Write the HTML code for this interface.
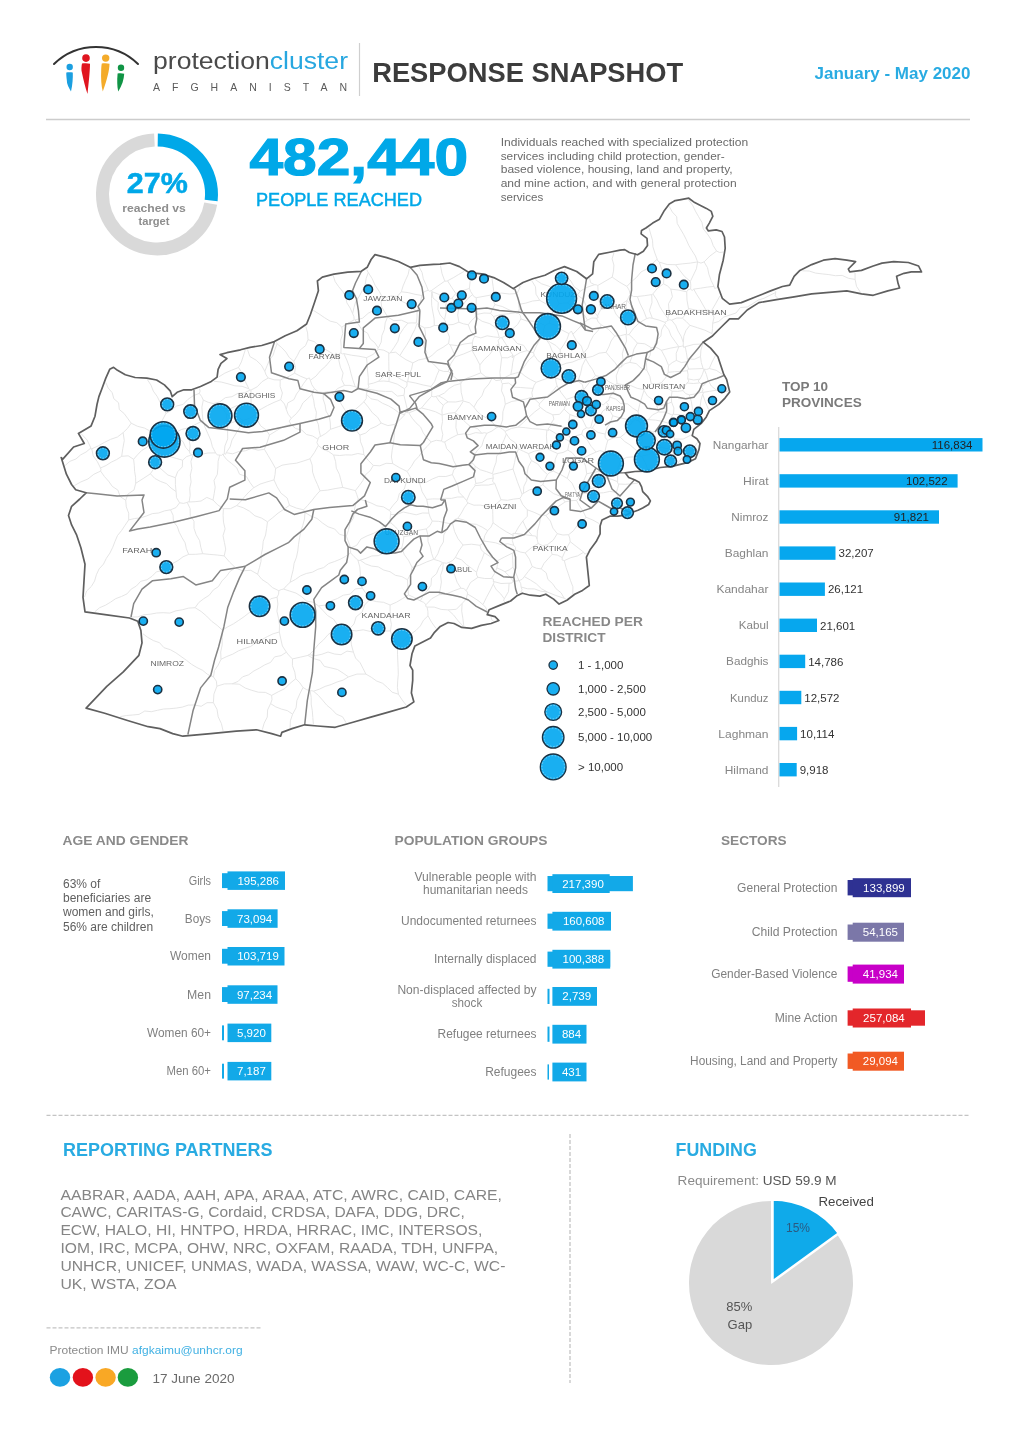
<!DOCTYPE html>
<html><head><meta charset="utf-8"><title>Response Snapshot</title>
<style>
html,body{margin:0;padding:0;background:#fff;}
body{width:1024px;height:1449px;overflow:hidden;}
svg{display:block;font-family:"Liberation Sans",sans-serif;}
.g{fill:#666}
.lbl{fill:#707070;font-size:11.5px}
.wt{fill:#fff;font-size:11.5px}
</style></head><body>
<svg width="1024" height="1449" viewBox="0 0 1024 1449">
<rect width="1024" height="1449" fill="#fff"/>

<!-- ===== HEADER ===== -->
<g id="logo">
  <path d="M54 64 A60.4 60.4 0 0 1 138 64" fill="none" stroke="#333" stroke-width="2" stroke-linecap="round"/>
  <circle cx="69.7" cy="67" r="3.2" fill="#1b9fe0"/>
  <path d="M66.3 72.5 C67.5 72 71.5 72 72.8 72.6 C73 78 72.6 85 71 91.5 C69 88 66.6 84 66.8 80 C66.5 77 66.2 75 66.3 72.5 Z" fill="#1b9fe0"/>
  <circle cx="86" cy="58.1" r="3.8" fill="#e0151f"/>
  <path d="M82 63.5 C84.5 63 88 63 90 63.8 C90 70 89 80 87.5 94 C85.5 88 83.5 80 82 73 C81 70 81.5 66 82 63.5 Z" fill="#e0151f"/>
  <circle cx="105.7" cy="58.1" r="3.7" fill="#f4ab2a"/>
  <path d="M101.8 63.5 C104 63 107.5 63 109.5 63.8 C109.5 70 107 80 102.8 91.5 C101.3 86 100.8 78 101.2 70 C101.3 67 101.5 65 101.8 63.5 Z" fill="#f4ab2a"/>
  <circle cx="121" cy="67.8" r="3.2" fill="#109445"/>
  <path d="M117.6 73.5 C119.5 73 122.5 73 124.2 73.8 C124 79 122 86 118.2 91.5 C117 86 117 80 117.6 73.5 Z" fill="#109445"/>
</g>
<text x="153" y="69" font-size="23.5" textLength="195" lengthAdjust="spacingAndGlyphs"><tspan fill="#4a4a4a">protection</tspan><tspan fill="#27a7e0">cluster</tspan></text>
<text x="153" y="90.5" font-size="10.5" fill="#5a5a5a" textLength="194" lengthAdjust="spacing">AFGHANISTAN</text>
<line x1="359.5" y1="43" x2="359.5" y2="96" stroke="#cfcfcf" stroke-width="1.2"/>
<text x="372.2" y="81.7" font-size="27" font-weight="bold" fill="#3c3c3c" textLength="311" lengthAdjust="spacingAndGlyphs">RESPONSE SNAPSHOT</text>
<text x="814.5" y="79.1" font-size="16" font-weight="bold" fill="#29abe2" textLength="156" lengthAdjust="spacingAndGlyphs">January - May 2020</text>
<line x1="46" y1="119.5" x2="970" y2="119.5" stroke="#cccccc" stroke-width="1.5"/>

<!-- ===== DONUT ===== -->
<g id="donut">
    <path d="M157.76 139.91 A54.5 54.5 0 0 1 211.15 200.57" fill="none" stroke="#00a8e8" stroke-width="13"/>
<path d="M210.70 203.68 A54.5 54.5 0 1 1 154.43 139.96" fill="none" stroke="#d9d9d9" stroke-width="13"/>
</g>
<text x="157.3" y="192.7" font-size="28.6" font-weight="bold" fill="#00a8e8" stroke="#00a8e8" stroke-width="0.5" text-anchor="middle" textLength="61" lengthAdjust="spacingAndGlyphs">27%</text>
<text x="154" y="211.7" font-size="10.5" font-weight="bold" fill="#8e8e8e" text-anchor="middle" textLength="63.5" lengthAdjust="spacingAndGlyphs">reached vs</text>
<text x="154" y="224.7" font-size="10.5" font-weight="bold" fill="#8e8e8e" text-anchor="middle" textLength="31" lengthAdjust="spacingAndGlyphs">target</text>

<text x="249.5" y="175.4" font-size="52" font-weight="bold" fill="#00a8e8" stroke="#00a8e8" stroke-width="1.2" textLength="218.5" lengthAdjust="spacingAndGlyphs">482,440</text>
<text x="256" y="205.9" font-size="17.5" fill="#00a8e8" stroke="#00a8e8" stroke-width="0.45" textLength="166" lengthAdjust="spacingAndGlyphs">PEOPLE REACHED</text>

<g font-size="10.5" fill="#6a6a6a">
  <text x="500.7" y="145.9" textLength="247.5" lengthAdjust="spacingAndGlyphs">Individuals reached with specialized protection</text>
  <text x="500.7" y="159.5" textLength="224" lengthAdjust="spacingAndGlyphs">services including child protection, gender-</text>
  <text x="500.7" y="173.2" textLength="232" lengthAdjust="spacingAndGlyphs">based violence, housing, land and property,</text>
  <text x="500.7" y="186.5" textLength="236" lengthAdjust="spacingAndGlyphs">and mine action, and with general protection</text>
  <text x="500.7" y="200.5" textLength="42.5" lengthAdjust="spacingAndGlyphs">services</text>
</g>

<g id="map">
<polygon points="62.8,459.1 73.6,447.0 84.3,443.5 78.4,433.4 91.1,425.9 95.0,416.2 97.0,404.5 98.9,396.6 101.9,388.8 105.8,378.1 109.7,369.3 113.6,367.3 117.5,370.3 125.3,374.8 135.1,377.5 146.8,378.1 156.6,380.0 164.4,384.9 170.2,390.8 172.2,396.6 177.1,392.3 183.9,389.8 191.7,389.8 200.5,386.5 211.3,381.4 217.1,377.1 218.1,369.3 221.0,363.4 226.9,358.6 220.0,354.6 226.9,352.7 240.5,349.8 250.0,347.4 261.7,345.5 274.4,341.6 285.2,335.7 296.9,330.8 306.6,324.0 310.5,314.2 314.5,302.5 318.4,290.8 317.4,281.0 322.3,277.1 334.0,274.2 347.7,272.2 361.3,271.3 367.2,267.3 371.1,259.5 375.0,254.6 386.7,257.6 398.4,261.5 410.2,267.3 419.9,265.4 433.6,264.4 440.0,264.2 449.8,263.0 459.5,266.6 469.3,272.7 481.5,273.9 493.7,277.6 503.5,282.5 513.2,288.6 523.0,282.5 532.8,278.8 545.0,275.2 554.7,270.3 564.5,266.6 576.7,271.5 586.5,278.8 592.6,273.9 593.8,261.7 598.7,254.4 610.9,252.0 620.0,250.2 624.7,249.6 629.4,252.5 637.6,254.8 643.4,251.3 647.5,245.5 647.0,238.4 641.1,233.8 641.5,230.5 645.9,228.0 652.7,223.1 659.5,219.2 664.4,210.4 669.3,204.0 675.2,200.6 681.0,199.6 688.8,198.2 694.7,202.6 700.5,205.5 706.4,208.4 711.3,211.4 712.8,216.3 709.3,223.1 706.4,228.0 708.4,230.9 716.2,229.9 722.0,231.5 724.5,237.0 725.2,248.4 723.2,260.2 719.4,274.8 717.9,286.5 722.3,298.3 729.6,304.1 741.3,302.6 756.0,296.8 770.6,290.9 782.4,286.5 789.7,285.1 794.1,276.3 799.9,270.4 811.7,264.6 823.4,260.2 835.1,258.7 846.8,260.2 855.6,261.6 848.3,269.0 849.7,271.9 861.5,270.4 873.2,266.0 882.0,263.1 893.7,261.6 908.3,262.5 918.6,266.0 921.5,271.9 911.3,271.9 904.0,273.3 896.6,276.3 898.1,283.6 899.6,288.0 887.8,290.9 873.2,295.3 861.5,293.9 846.8,290.9 829.2,292.4 811.7,293.9 794.1,296.8 776.5,299.7 758.9,302.6 747.2,310.0 738.4,318.8 729.6,318.8 720.8,327.5 712.0,336.3 703.2,342.2 710.6,348.1 717.9,356.8 720.8,365.6 723.8,374.4 726.6,379.4 729.7,391.9 725.0,398.1 718.8,404.4 709.4,410.6 706.3,416.9 701.6,423.1 693.8,429.4 692.2,435.6 696.9,438.8 700.0,443.4 699.0,449.4 695.5,458.8 688.4,462.3 679.1,464.6 672.0,466.4 660.3,467.5 653.3,469.3 645.1,471.1 635.0,471.5 625.2,472.8 628.7,477.5 634.5,479.8 639.2,482.2 641.6,486.9 642.7,491.6 647.4,496.3 650.4,500.9 648.6,504.5 642.7,508.0 638.0,510.3 631.0,512.7 625.5,515.2 617.7,516.2 609.8,516.2 602.0,520.1 600.1,525.9 600.1,533.8 596.2,541.6 590.3,549.4 586.4,557.2 587.4,567.0 588.4,576.7 589.3,585.5 582.5,590.4 574.7,594.3 566.9,600.2 559.1,604.1 553.6,599.1 545.8,594.2 539.9,596.1 530.2,595.2 522.3,593.2 516.5,596.1 510.6,601.0 500.9,604.9 489.1,609.8 487.2,614.7 495.0,616.6 498.9,620.5 491.1,623.5 481.3,625.4 471.6,628.4 461.8,627.4 454.0,623.5 448.1,622.5 440.3,626.4 434.5,632.3 430.5,638.1 422.7,642.0 414.9,645.9 412.0,653.8 410.0,665.5 412.7,670.2 412.7,680.3 411.4,693.0 413.9,701.9 406.3,707.0 388.5,712.1 370.8,717.1 353.0,722.2 335.2,727.3 317.4,726.0 304.7,724.8 292.0,728.6 281.9,732.4 280.6,736.2 271.7,733.6 256.5,729.8 236.2,731.1 210.8,733.6 182.9,736.2 172.7,733.6 160.0,728.6 148.2,726.7 127.5,720.5 104.7,713.3 86.1,708.1 106.8,686.4 123.3,671.9 138.9,655.3 142.0,642.9 140.9,630.5 137.8,621.2 129.5,618.0 106.8,614.9 85.0,611.8 83.0,597.3 84.0,580.8 85.0,564.2 80.9,547.7 76.7,535.2 71.6,524.9 68.5,515.6 71.6,506.3 79.8,499.0 86.1,492.8 75.7,489.7 71.6,484.5 66.4,474.2 61.2,457.6" fill="#fff" stroke="none"/>
<path d="M81.1 433.6 L87.1 440.0 L90.9 448.0 M90.9 448.0 L86.1 452.0 L80.6 454.9 L75.9 459.0 L69.9 461.3 L65.2 465.5 M74.4 485.6 L80.9 481.9 L87.9 479.0 L93.8 474.3 L100.6 471.1 M128.7 519.9 L125.1 525.2 L121.6 530.5 L117.5 535.5 L115.0 541.4 L112.7 547.4 L109.9 553.1 L106.3 558.4 L103.5 564.1 L99.1 568.9 L96.4 574.7 L94.6 581.0 L91.4 586.4 L86.6 591.0 L84.5 597.1 M128.7 519.9 L128.7 513.2 L126.3 506.9 L125.7 500.3 M125.7 500.3 L120.2 496.6 L117.9 490.1 L112.3 486.4 L108.6 481.2 L104.3 476.4 L100.6 471.1 M855.0 272.7 L855.1 276.1 L855.1 279.4 M860.3 292.1 L856.5 286.3 L855.1 279.4 M855.1 279.4 L848.5 278.3 L842.2 275.4 L835.4 275.7 L828.9 274.6 L822.2 273.9 L815.6 273.1 L809.2 271.0 L802.4 270.8 M90.9 448.0 L90.8 449.1 L91.8 448.8 M100.6 471.1 L101.0 469.5 L100.5 468.0 M91.8 448.8 L93.2 455.9 L97.4 461.7 L100.5 468.0 M775.2 290.8 L775.7 291.6 L775.7 292.5 M777.5 298.0 L775.2 295.7 L775.7 292.5 M120.3 716.6 L126.4 715.5 L132.7 715.0 L139.0 714.4 L144.8 711.0 L151.3 711.7 L157.4 710.3 L163.6 709.0 L169.9 708.7 L176.1 708.1 L182.3 707.1 L188.3 705.1 L194.7 705.0 L201.2 706.3 L207.0 702.7 L213.4 702.7 M142.7 633.6 L147.8 637.4 L153.4 640.6 L159.5 642.7 L164.0 647.7 L170.3 649.7 L175.9 652.8 L181.1 656.5 L186.3 660.2 L191.4 664.2 L196.9 667.5 L202.6 670.3 L207.6 674.4 L213.5 677.0 M213.5 677.0 L216.4 681.2 L216.9 686.2 M213.4 702.7 L213.9 694.2 L216.9 686.2 M133.6 459.3 L137.6 454.7 L141.9 450.3 L147.4 447.1 L150.8 441.9 M133.6 459.3 L128.2 455.8 L121.7 456.3 M121.7 456.3 L122.8 448.5 L124.3 440.6 L123.1 432.7 M150.4 431.2 L150.8 436.6 L150.8 441.9 M150.4 431.2 L144.3 428.0 L137.5 426.3 L131.2 423.2 M131.2 423.2 L127.6 428.3 L123.1 432.7 M157.1 453.9 L157.6 459.5 L156.1 464.8 M157.1 453.9 L152.8 448.5 L150.8 441.9 M135.7 483.3 L135.6 477.3 L134.6 471.3 L134.3 465.3 L133.6 459.3 M135.7 483.3 L143.1 478.6 L150.4 473.8 M150.4 473.8 L153.3 469.4 L156.1 464.8 M125.7 500.3 L128.0 494.0 L134.0 490.0 L135.7 483.3 M100.5 468.0 L106.1 465.5 L111.2 462.2 L116.6 459.6 L121.7 456.3 M91.8 448.8 L98.3 445.9 L104.4 442.4 L110.7 439.3 L117.4 437.0 L123.1 432.7 M147.4 379.7 L151.0 385.1 L153.3 391.1 L157.1 396.3 L160.0 402.1 L163.6 407.4 L165.9 413.5 M105.8 382.5 L108.2 388.0 L112.2 392.7 L113.8 398.7 L118.6 402.8 L119.3 409.5 L124.1 413.5 L127.7 418.4 L131.2 423.2 M165.9 413.5 L162.4 420.1 L158.8 426.7 M158.8 426.7 L155.2 430.0 L150.4 431.2 M716.6 251.1 L709.9 256.0 L704.1 261.9 M716.6 251.1 L713.2 245.6 L711.0 239.4 L707.4 234.0 L703.3 228.9 L701.9 222.3 L698.6 216.7 L695.4 211.1 L692.6 205.2 L688.7 200.0 M704.1 261.9 L700.9 263.1 L697.6 261.9 M697.6 261.9 L695.4 256.0 L692.0 250.7 L688.8 245.4 L686.3 239.7 L683.5 234.2 L680.3 228.8 L677.2 223.4 L676.7 216.7 L672.3 212.0 L669.3 206.5 M293.9 361.3 L289.2 357.4 L285.9 352.1 L281.8 347.7 L277.1 343.8 M293.9 361.3 L297.2 355.8 L300.1 350.0 L305.5 345.7 L308.0 339.7 M305.8 326.4 L307.6 332.9 L308.0 339.7 M276.2 342.3 L276.8 342.9 L277.1 343.8 M290.2 582.3 L291.6 576.0 L293.2 569.7 L294.1 563.3 L296.5 557.1 L297.8 550.8 L298.5 544.3 L299.6 537.9 L300.7 531.5 L302.8 525.3 L304.5 519.0 L305.0 512.5 M290.2 582.3 L295.5 579.4 L300.6 575.8 L306.3 573.5 L312.4 572.2 L317.8 569.3 L323.7 567.6 L328.6 563.6 L334.4 561.6 L340.1 559.3 L345.5 556.4 L350.6 552.9 M305.0 512.5 L310.8 516.0 L317.2 518.5 L322.5 523.0 L328.1 526.8 L334.7 529.0 L339.5 534.3 L346.3 536.2 M346.3 536.2 L348.6 542.1 L350.6 548.1 M350.6 552.9 L350.6 550.5 L350.6 548.1 M357.9 560.1 L359.1 560.6 L360.2 560.2 M360.2 560.2 L366.1 558.3 L371.9 555.9 L378.2 555.7 L383.9 553.1 L390.2 552.8 L395.9 550.3 L401.7 547.9 M403.8 536.7 L399.6 531.9 L395.6 527.0 L390.8 522.8 M401.7 547.9 L403.2 542.4 L403.8 536.7 M357.9 560.1 L354.1 556.7 L350.6 552.9 M390.8 522.8 L384.5 525.5 L379.3 530.0 L373.5 533.4 L367.0 535.9 L360.9 539.0 L356.8 545.2 L350.6 548.1 M335.3 355.6 L330.0 352.1 L324.6 348.9 L318.9 346.1 L314.2 341.6 L308.0 339.7 M294.6 373.2 L295.4 367.2 L293.9 361.3 M294.6 373.2 L300.7 376.3 L307.0 378.9 M335.3 355.6 L330.3 360.6 L325.8 366.0 L320.5 370.7 L316.0 376.1 L310.3 380.3 M307.0 378.9 L309.4 377.9 L310.3 380.3 M165.9 413.5 L171.5 410.2 L176.6 406.0 L183.2 404.4 L187.8 399.5 L193.1 395.8 L199.3 393.4 M199.3 393.4 L200.2 391.0 L199.3 388.5 M174.1 433.3 L181.7 429.4 L190.1 427.5 M174.1 433.3 L178.1 437.9 L183.0 441.6 L185.6 447.3 L189.5 451.8 M189.5 451.8 L190.1 445.7 L189.0 439.6 L188.7 433.6 L190.1 427.5 M158.8 426.7 L166.0 430.9 L174.1 433.3 M190.1 427.5 L196.4 423.9 L203.0 420.8 M199.3 393.4 L201.6 396.5 L203.3 400.1 M203.0 420.8 L202.3 413.9 L201.9 407.0 L203.3 400.1 M515.0 533.4 L523.6 534.5 L532.3 535.7 M515.0 533.4 L518.6 527.0 L522.8 521.0 M522.8 521.0 L526.5 529.0 L532.3 535.7 M525.2 552.9 L531.4 547.7 L538.2 543.5 M538.2 543.5 L542.5 545.6 L547.2 544.8 M541.2 568.9 L536.5 568.2 L532.2 566.5 M532.2 566.5 L529.5 559.3 L525.2 552.9 M541.2 568.9 L544.0 563.4 L548.0 558.9 L552.1 554.4 M552.1 554.4 L550.7 549.1 L547.2 544.8 M657.2 259.2 L652.2 263.8 L647.5 268.7 L641.2 271.8 L636.8 277.1 L631.7 281.5 L626.9 286.4 M657.2 259.2 L654.9 253.1 L652.9 246.8 L652.5 240.2 L650.7 234.0 L648.9 227.7 M613.9 252.9 L612.1 258.9 L613.9 265.1 L613.5 271.1 L612.2 277.1 M626.9 286.4 L619.4 282.1 L612.2 277.1 M716.8 287.7 L714.7 288.5 L714.0 286.4 M719.9 296.0 L715.5 303.9 L711.0 311.6 M711.0 311.6 L708.8 310.1 L706.1 310.3 M706.1 310.3 L703.0 305.0 L700.0 299.6 L696.7 294.4 L693.7 289.1 M714.0 286.4 L707.2 287.1 L700.5 288.2 L693.7 289.1 M723.1 252.1 L719.7 252.5 L716.6 251.1 M704.1 261.9 L707.5 267.7 L708.9 274.2 L711.1 280.4 L714.0 286.4 M775.7 292.5 L769.9 295.3 L764.3 298.2 L758.1 300.1 L752.7 303.7 L747.3 307.0 L740.4 307.5 L736.0 313.0 L729.9 315.0 L723.8 317.0 L718.8 321.4 L712.7 323.3 M712.7 323.3 L714.0 317.2 L711.0 311.6 M279.3 632.0 L279.5 625.0 L278.5 618.1 L276.9 611.2 L277.9 604.1 L277.1 597.2 M279.3 632.0 L273.1 633.8 L267.3 636.6 L261.7 639.8 L255.9 642.7 L250.6 646.5 L244.4 648.5 L238.4 650.9 L232.8 654.1 L226.8 656.5 L221.0 659.3 M277.1 597.2 L270.7 598.8 L266.4 604.1 L260.5 606.8 L255.4 610.6 L249.2 612.7 L244.1 616.7 L238.8 620.3 L233.5 623.8 L227.8 626.8 L222.4 630.2 M221.0 659.3 L220.7 652.0 L222.2 644.8 L222.2 637.5 L222.4 630.2 M232.2 683.8 L238.1 681.4 L242.6 676.8 L248.7 674.8 L253.8 671.0 L259.4 668.1 L264.7 664.9 L270.6 662.4 L274.6 656.9 L281.1 655.6 L286.4 652.2 M286.4 652.2 L282.4 646.0 L280.8 639.0 L279.3 632.0 M216.9 686.2 L224.3 683.9 L232.2 683.8 M213.5 677.0 L214.5 670.5 L218.2 665.1 L221.0 659.3 M131.2 617.0 L137.7 616.9 L143.9 614.8 L150.3 614.2 L156.7 613.0 L163.2 612.7 L169.8 613.1 L176.0 610.8 L182.3 609.8 L188.6 608.1 L195.1 607.7 M195.1 607.7 L201.2 611.5 L206.6 616.1 L211.6 621.2 L217.2 625.4 L222.4 630.2 M365.9 674.1 L363.0 668.4 L360.2 662.8 L355.6 658.1 L353.4 652.1 M365.9 674.1 L356.9 674.1 L348.5 676.9 M348.5 676.9 L343.1 673.1 L337.5 669.5 L330.9 667.9 L324.3 666.4 L320.1 660.4 L313.6 658.6 L307.9 655.4 M307.9 655.4 L308.4 654.7 L309.2 654.7 M353.4 652.1 L347.0 651.1 L340.9 654.7 L334.5 654.0 L328.0 652.0 L321.8 654.3 L315.6 655.6 L309.2 654.7 M307.9 655.4 L300.2 657.2 L292.5 658.9 M310.1 690.8 L306.4 689.5 L303.0 687.5 M310.1 690.8 L311.8 690.7 L313.5 691.2 M313.5 691.2 L319.5 689.1 L325.1 686.4 L331.2 684.5 L337.0 682.0 L343.0 680.2 L348.5 676.9 M292.5 658.9 L292.4 665.7 L294.8 672.1 L295.8 678.7 M303.0 687.5 L299.8 682.8 L295.8 678.7 M232.2 683.8 L239.2 684.2 L245.2 688.0 L251.7 690.3 L258.3 692.2 L265.4 692.4 L271.6 695.4 M286.4 652.2 L289.2 655.8 L292.5 658.9 M295.8 678.7 L290.1 683.3 L284.8 688.6 L278.1 691.9 L271.6 695.4 M128.7 519.9 L134.7 518.5 L140.8 517.8 L146.7 515.9 L152.4 513.6 L158.6 513.0 L164.5 510.9 L170.5 509.8 M94.9 611.7 L99.6 607.7 L105.3 605.3 L110.5 602.2 L115.6 598.7 L121.4 596.5 L127.0 593.9 L131.2 589.1 L136.4 586.0 L140.7 581.3 L146.9 579.8 L152.0 576.3 L156.4 571.8 L162.8 570.5 L168.1 567.6 L172.7 563.4 L178.1 560.5 L183.0 556.8 L188.7 554.4 M170.5 509.8 L173.1 515.3 L173.4 521.6 L177.3 526.5 L179.2 532.2 L182.0 537.6 L185.1 542.8 L186.4 548.8 L188.7 554.4 M283.6 589.1 L281.1 589.6 L278.8 590.7 M278.8 590.7 L272.6 587.7 L267.7 583.2 L262.0 579.5 L257.6 574.2 M289.5 505.3 L296.4 508.1 L303.6 509.8 M303.6 509.8 L304.3 511.2 L305.0 512.5 M289.5 505.3 L283.9 509.3 L278.1 513.1 L272.9 517.5 L267.5 521.8 M283.6 589.1 L286.7 585.5 L290.2 582.3 M267.5 521.8 L266.6 528.4 L265.6 535.0 L263.2 541.3 L262.6 548.0 L261.2 554.6 L261.0 561.3 L259.4 567.8 L257.6 574.2 M195.1 607.7 L198.8 602.5 L203.9 598.6 L209.3 595.2 L213.2 590.1 L218.5 586.5 L221.9 581.0 L226.3 576.5 L230.1 571.3 L235.5 567.8 M188.7 554.4 L195.7 554.3 L202.7 553.7 M202.7 553.7 L209.9 554.4 L217.1 555.0 L224.2 555.9 M224.2 555.9 L229.6 562.1 L235.5 567.8 M278.8 590.7 L278.6 594.1 L277.1 597.2 M235.5 567.8 L242.6 570.8 L250.8 570.3 L257.6 574.2 M463.8 626.1 L462.9 618.6 L461.7 611.1 L462.1 603.5 M463.0 626.0 L458.0 620.7 L453.5 614.9 L448.1 609.9 M448.1 609.9 L456.3 609.3 L462.1 603.5 M390.8 522.8 L390.2 518.7 L390.5 514.5 M358.2 498.9 L355.5 504.9 L354.1 511.3 L353.5 517.9 L349.8 523.6 L348.5 530.1 L346.3 536.2 M358.2 498.9 L364.6 500.7 L370.9 502.9 L376.9 505.8 L383.5 506.9 L389.3 510.4 M389.3 510.4 L390.9 512.2 L390.5 514.5 M314.5 388.7 L312.6 391.1 L312.1 394.3 M323.6 392.6 L318.5 392.0 L314.5 388.7 M330.5 429.3 L325.8 433.4 L320.5 436.5 M323.6 392.6 L323.1 399.0 L325.1 405.0 L326.0 411.1 L329.4 416.9 L330.3 423.0 L330.5 429.3 M320.5 436.5 L319.1 430.5 L318.4 424.4 L315.8 418.6 L316.4 412.2 L314.5 406.3 L313.7 400.2 L312.1 394.3 M314.5 388.7 L311.9 384.8 L310.3 380.3 M286.3 409.4 L288.1 414.2 L291.3 418.2 M286.3 409.4 L287.8 402.9 L293.9 399.6 L296.5 394.0 L300.2 389.1 L303.4 383.8 L307.0 378.9 M312.1 394.3 L307.5 398.7 L302.8 403.0 L300.0 409.0 L296.1 413.9 L291.3 418.2 M291.3 418.2 L289.2 421.1 L290.9 424.3 M320.5 436.5 L318.6 437.3 L318.0 439.3 M290.9 424.3 L295.6 428.5 L301.8 430.1 L306.5 434.5 L312.7 436.0 L318.0 439.3 M156.1 464.8 L162.0 469.8 L167.9 475.0 L175.4 477.7 M157.1 453.9 L163.5 455.3 L169.9 456.6 L176.3 458.4 L182.6 460.2 M182.6 460.2 L182.3 466.9 L177.6 471.8 L175.4 477.7 M189.5 451.8 L190.1 453.8 L191.8 454.9 M182.6 460.2 L186.6 456.6 L191.8 454.9 M150.4 473.8 L154.8 478.4 L160.4 481.4 L166.4 483.6 L171.0 488.0 L176.1 491.6 M175.4 477.7 L175.4 484.7 L176.1 491.6 M202.7 553.7 L200.8 547.2 L199.6 540.6 L196.2 534.7 L194.0 528.3 L194.0 521.3 L190.3 515.5 L190.1 508.5 L187.2 502.4 M170.5 509.8 L176.0 507.6 L179.6 502.8 M187.2 502.4 L183.5 503.4 L179.6 502.8 M176.1 491.6 L176.5 497.6 L179.6 502.8 M392.7 463.6 L399.8 467.8 L407.2 471.5 M407.2 471.5 L408.9 474.6 L410.6 477.6 M392.7 463.6 L386.1 463.3 L379.8 465.8 L373.3 465.4 M410.6 477.6 L406.2 482.5 L404.3 489.0 L399.3 493.6 L397.6 500.3 L393.2 505.2 L389.3 510.4 M358.2 498.9 L356.8 494.7 L355.4 490.6 M355.4 490.6 L359.2 485.7 L362.8 480.7 L365.3 474.9 L370.1 470.8 L373.3 465.4 M330.5 429.3 L338.6 426.6 L346.7 423.8 M323.6 392.6 L328.1 391.5 L332.4 393.2 M346.7 423.8 L346.3 418.9 L349.3 415.0 M349.3 415.0 L344.8 409.8 L341.1 403.8 L337.4 398.0 L332.4 393.2 M335.3 355.6 L336.0 352.9 L337.9 354.9 M337.9 354.9 L339.0 361.1 L340.4 367.2 L343.1 373.0 L341.7 379.7 L344.5 385.4 M332.4 393.2 L337.9 388.4 L344.5 385.4 M277.1 343.8 L274.9 349.4 L273.1 355.2 L269.4 360.1 L267.1 365.7 L264.8 371.3 M264.8 371.3 L261.4 365.2 L256.3 360.3 L249.9 356.5 L247.5 349.6 M519.1 580.6 L522.2 579.3 L524.3 576.6 M519.1 580.6 L520.7 583.6 L521.1 587.0 M524.3 576.6 L530.4 580.0 L536.3 583.8 L541.4 588.7 L547.5 592.1 M521.1 587.0 L527.6 588.8 L534.4 588.9 L540.9 591.2 L547.5 592.1 M564.2 598.3 L561.1 592.8 L556.1 588.8 L552.6 583.7 L547.9 579.4 L546.2 572.8 L541.2 568.9 M564.2 598.3 L555.8 595.5 L547.5 592.1 M532.2 566.5 L528.2 571.5 L524.3 576.6 M515.4 549.9 L520.2 552.0 L525.2 552.9 M515.4 549.9 L515.5 547.3 L513.7 545.3 M515.0 533.4 L512.9 533.4 L513.2 535.5 M532.3 535.7 L535.7 536.0 L537.1 539.1 M538.2 543.5 L537.6 541.3 L537.1 539.1 M513.7 545.3 L512.3 540.4 L513.2 535.5 M475.8 483.4 L481.9 482.5 L487.3 479.2 L493.3 478.0 M475.1 485.6 L475.0 484.4 L475.8 483.4 M475.1 485.6 L481.7 485.1 L488.3 485.1 L494.8 483.6 M494.8 483.6 L492.6 481.2 L493.3 478.0 M572.8 593.9 L572.9 586.8 L570.4 580.3 L568.3 573.8 L566.0 567.3 L564.3 560.6 M565.4 599.3 L565.2 598.4 L564.2 598.3 M552.1 554.4 L557.4 555.1 L562.3 557.6 M564.3 560.6 L562.0 559.9 L562.3 557.6 M712.7 323.3 L712.5 328.5 L712.0 333.6 M722.1 374.2 L716.2 370.3 L709.3 368.5 M715.2 356.0 L712.0 362.1 L709.3 368.5 M697.6 261.9 L696.4 268.8 L693.4 275.1 L690.4 281.3 M697.6 261.9 L690.3 263.1 L682.9 263.8 L675.5 264.7 M675.5 264.7 L680.0 270.7 L684.6 276.5 L690.4 281.3 M690.6 289.1 L690.8 285.2 L690.4 281.3 M690.6 289.1 L692.2 290.5 L693.7 289.1 M657.2 259.2 L657.9 260.9 L659.3 262.1 M659.3 262.1 L667.2 264.5 L675.5 264.7 M663.6 283.8 L667.6 286.0 L670.8 289.1 M652.9 293.9 L657.6 288.1 L663.6 283.8 M652.9 293.9 L656.9 300.0 L659.8 306.7 L663.7 312.8 L668.0 318.7 M668.0 318.7 L669.0 311.3 L668.5 303.8 L672.4 296.7 L670.8 289.1 M706.1 310.3 L697.2 310.4 L688.5 308.5 M690.6 289.1 L688.2 289.7 L686.7 291.8 M688.5 308.5 L687.0 300.2 L686.7 291.8 M659.3 262.1 L661.6 269.1 L663.8 276.2 L663.6 283.8 M670.8 289.1 L678.8 290.1 L686.7 291.8 M337.3 624.6 L342.9 627.7 L349.0 629.3 M337.3 624.6 L333.5 619.1 L327.6 615.6 L323.1 610.7 L318.5 605.9 M349.0 629.3 L354.0 624.0 L356.2 616.8 L362.1 612.1 L364.6 605.0 L369.6 599.8 M318.5 605.9 L325.5 605.1 L331.1 600.9 L337.4 598.5 L343.3 595.2 L350.2 594.1 L355.3 588.9 L362.3 588.1 M362.3 588.1 L366.3 593.8 L369.6 599.8 M353.4 652.1 L351.4 644.9 L350.8 637.5 L349.5 630.2 M309.2 654.7 L314.1 649.9 L318.3 644.5 L323.5 639.9 L328.0 634.7 L333.6 630.5 L337.3 624.6 M349.5 630.2 L347.3 630.7 L349.0 629.3 M283.6 589.1 L289.8 591.1 L296.0 593.1 L301.5 596.6 L306.5 601.0 L313.1 602.2 L318.5 605.9 M390.4 630.9 L391.4 624.4 L390.2 618.0 L390.1 611.5 L390.1 605.0 M390.1 605.0 L383.5 602.3 L376.4 601.6 L369.6 599.8 M349.5 630.2 L356.3 630.9 L363.2 629.8 L370.0 631.4 L376.8 631.0 L383.6 631.1 L390.4 630.9 M357.9 560.1 L359.8 567.0 L360.4 574.1 L359.1 581.4 L362.3 588.1 M292.6 714.2 L287.5 710.7 L281.5 709.1 L275.8 706.9 L270.6 703.6 M292.6 714.2 L290.4 720.8 L290.1 727.7 M270.6 703.6 L267.6 709.9 L267.3 717.0 L264.2 723.1 L262.3 729.7 M303.0 687.5 L299.8 693.9 L296.9 700.5 L296.1 707.8 L292.6 714.2 M271.6 695.4 L272.0 699.6 L270.6 703.6 M313.4 724.1 L312.8 717.4 L312.3 710.7 L311.2 704.1 L311.2 697.4 L310.1 690.8 M213.4 702.7 L217.0 709.3 L218.2 716.8 L221.4 723.6 L223.1 730.9 M428.0 615.8 L423.5 620.2 L420.4 625.9 L416.0 630.4 L410.8 634.2 L405.9 638.2 L401.7 642.8 L397.5 647.6 M428.0 615.8 L431.7 622.4 L436.1 628.5 M398.4 694.2 L397.4 687.5 L397.7 680.9 L398.3 674.2 L398.1 667.5 L397.8 660.9 L397.5 654.2 L397.5 647.6 M398.4 694.2 L402.1 699.9 L406.2 705.2 M427.1 607.1 L434.2 607.1 L441.1 609.4 L448.1 609.9 M427.1 607.1 L427.9 611.4 L428.0 615.8 M365.9 674.1 L371.4 677.3 L376.6 681.0 L382.7 683.3 L387.5 687.6 L392.1 692.2 L398.4 694.2 M390.4 630.9 L392.3 636.7 L395.1 642.1 L397.5 647.6 M313.5 691.2 L318.4 695.4 L322.7 700.3 L326.9 705.3 L331.9 709.4 L336.3 714.1 L342.6 716.8 L346.0 722.6 M520.7 592.3 L522.1 589.8 L521.1 587.0 M420.4 601.0 L414.6 597.7 L408.5 594.9 M420.4 601.0 L423.2 595.3 L427.5 590.5 L431.0 585.2 L431.5 578.1 L436.5 573.7 L438.9 567.8 L442.6 562.6 M408.5 594.9 L407.8 587.3 L407.5 579.8 M407.5 579.8 L410.7 573.9 L412.1 567.4 M412.1 567.4 L419.5 565.2 L426.5 562.0 L433.7 559.3 M442.6 562.6 L438.5 560.7 L434.2 559.5 M390.1 605.0 L396.5 602.2 L402.5 598.6 L408.5 594.9 M427.1 607.1 L425.6 606.3 L426.0 604.7 M426.0 604.7 L423.5 602.3 L420.4 601.0 M439.0 594.8 L431.7 598.7 L426.0 604.7 M439.0 594.8 L440.4 588.4 L441.4 582.1 L440.6 575.4 L442.7 569.2 L443.3 562.7 M360.2 560.2 L365.6 563.9 L371.6 566.1 L378.2 566.8 L383.8 570.1 L390.0 571.7 L395.4 575.3 L401.8 576.6 L407.5 579.8 M401.7 547.9 L404.4 554.8 L408.8 560.8 L412.1 567.4 M426.3 528.9 L427.9 535.0 L428.0 541.4 L430.3 547.3 L431.6 553.4 L433.7 559.3 M403.8 536.7 L411.7 535.3 L418.3 530.3 L426.3 528.9 M349.3 415.0 L354.1 410.5 L359.1 406.2 L363.9 401.8 M346.7 423.8 L354.4 428.2 L359.9 435.1 M359.9 435.1 L365.8 433.0 L370.4 428.8 L376.1 426.4 L381.2 423.1 M381.2 423.1 L377.6 417.2 L372.3 412.7 L368.3 407.1 L363.9 401.8 M359.9 435.1 L360.5 441.7 L363.0 448.0 L363.9 454.6 M392.7 463.6 L391.4 457.0 L392.1 450.5 L393.3 444.0 L394.1 437.5 L394.4 430.9 L394.8 424.4 M373.3 465.4 L368.2 460.3 L363.9 454.6 M381.2 423.1 L387.9 425.6 L394.8 424.4 M439.0 594.8 L446.7 593.9 L453.7 590.8 L460.9 588.2 M443.3 562.7 L446.3 563.3 L449.1 562.3 M449.1 562.3 L451.5 569.0 L454.8 575.3 L457.1 582.2 L460.9 588.2 M467.5 594.0 L465.9 599.4 L462.1 603.5 M467.5 594.0 L467.4 592.1 L466.2 590.7 M460.9 588.2 L463.9 588.6 L466.2 590.7 M501.0 499.7 L497.9 491.6 L494.8 483.6 M492.6 506.4 L486.3 506.3 L480.2 505.1 L473.9 505.2 L467.9 502.9 M492.6 506.4 L497.0 503.3 L501.0 499.7 M475.1 485.6 L470.1 492.5 L466.8 500.4 M466.8 500.4 L466.9 501.8 L467.9 502.9 M434.2 559.5 L437.8 553.9 L440.0 547.6 L443.4 542.0 L443.8 534.9 L447.0 529.1 L451.1 523.8 M426.3 528.9 L430.0 525.6 L432.3 521.1 M451.1 523.8 L444.9 522.7 L438.6 521.3 L432.3 521.1 M390.5 514.5 L396.9 514.4 L403.2 512.0 L409.7 513.4 L416.2 514.8 L422.5 513.0 L428.9 513.1 M432.3 521.1 L430.2 517.2 L428.9 513.1 M463.0 545.0 L471.5 544.2 L480.0 545.3 M463.0 545.0 L458.0 538.7 L454.6 531.6 L452.7 523.9 M452.7 523.9 L454.0 519.9 L457.8 518.3 M457.8 518.3 L464.1 520.1 L469.5 523.8 L476.3 524.3 L482.1 527.1 L487.7 530.6 M480.0 545.3 L482.4 543.7 L483.6 541.0 M483.6 541.0 L484.8 535.5 L487.7 530.6 M449.1 562.3 L452.7 560.5 L455.3 557.5 M455.3 557.5 L458.8 551.0 L463.0 545.0 M451.1 523.8 L451.9 524.1 L452.7 523.9 M492.6 506.4 L492.8 514.6 L493.0 522.7 M493.0 522.7 L491.0 527.1 L487.7 530.6 M467.9 502.9 L464.2 507.8 L461.3 513.2 L457.8 518.3 M513.7 545.3 L507.8 543.7 L501.5 544.9 L495.6 542.8 L489.6 541.8 L483.6 541.0 M513.2 535.5 L506.2 531.7 L499.5 527.4 L493.0 522.7 M191.8 454.9 L192.5 454.4 L193.0 455.0 M187.2 502.4 L188.1 501.8 L189.1 502.0 M189.1 502.0 L190.2 495.3 L189.7 488.5 L191.1 481.9 L190.3 475.1 L191.9 468.4 L190.9 461.6 L193.0 455.0 M203.0 420.8 L205.1 427.4 L207.9 433.7 L210.7 440.0 L212.4 446.7 L215.6 452.9 M215.6 452.9 L208.0 453.0 L200.5 454.4 L193.0 455.0 M318.3 445.5 L314.5 452.4 L310.0 458.8 M318.3 445.5 L323.0 449.3 L328.7 451.5 L333.6 455.0 M333.6 455.0 L335.6 461.5 L336.3 468.2 L339.4 474.4 L341.1 480.9 L342.7 487.4 M310.0 458.8 L312.2 465.2 L312.6 472.1 L314.7 478.4 L317.5 484.6 L320.0 490.8 M320.0 490.8 L327.6 490.1 L335.1 488.6 L342.7 487.4 M264.4 449.3 L268.2 455.7 L272.0 462.1 L275.6 468.6 M264.4 449.3 L267.2 442.2 L269.5 435.0 M275.6 468.6 L282.0 465.2 L289.1 464.0 L296.4 463.2 L303.2 461.1 L310.0 458.8 M269.5 435.0 L276.3 430.8 L283.1 426.7 L290.9 424.3 M318.0 439.3 L316.9 442.5 L318.3 445.5 M363.9 454.6 L357.8 453.5 L351.8 455.0 L345.7 454.9 L339.7 455.5 L333.6 455.0 M355.4 490.6 L349.0 489.0 L342.7 487.4 M303.6 509.8 L307.9 505.2 L312.0 500.4 L315.8 495.5 L320.0 490.8 M274.0 479.9 L275.1 474.3 L275.6 468.6 M289.5 505.3 L287.2 498.0 L280.9 493.1 L277.1 486.7 L274.0 479.9 M344.5 385.4 L350.0 385.4 L355.3 386.8 M355.3 386.8 L352.9 380.2 L351.0 373.5 L349.3 366.6 L346.8 360.0 L343.8 353.6 M337.9 354.9 L339.2 353.6 L340.9 352.9 M343.8 353.6 L342.3 353.9 L340.9 352.9 M313.4 310.4 L319.0 313.9 L324.4 317.6 L330.1 321.1 L336.8 322.7 L341.8 327.1 M340.9 352.9 L341.2 346.5 L340.7 340.0 L342.8 333.6 L341.8 327.1 M381.7 306.9 L384.7 311.9 L387.6 316.9 M381.7 306.9 L374.8 309.8 L368.3 313.2 L362.5 318.3 L355.0 319.9 M355.0 319.9 L358.7 324.7 L362.0 329.9 L367.6 333.2 L370.2 338.9 L374.9 342.9 L378.3 348.0 M387.6 316.9 L385.2 322.9 L384.4 329.5 L381.9 335.5 L381.2 342.1 L378.3 348.0 M368.3 272.6 L366.1 278.5 L365.2 284.9 L362.3 290.5 L359.4 296.1 L355.8 301.4 L354.0 307.4 L352.6 313.6 M368.3 272.6 L367.4 271.1 L366.8 269.4 M352.6 313.6 L350.2 308.1 L346.9 302.9 L345.7 296.7 L342.7 291.5 L338.7 286.7 L335.2 281.7 L333.3 275.9 M382.6 297.7 L381.1 302.2 L381.7 306.9 M382.6 297.7 L379.2 291.3 L375.1 285.3 L372.2 278.7 L368.3 272.6 M354.2 319.9 L353.9 316.6 L352.6 313.6 M341.8 327.1 L347.9 323.2 L354.2 319.9 M213.9 381.3 L221.1 382.0 L228.0 383.8 L234.9 385.8 L242.1 386.3 L248.9 388.8 M218.6 377.0 L224.9 373.1 L231.7 370.2 L238.5 367.5 M238.5 367.5 L242.9 374.1 L245.4 381.7 L248.9 388.8 M213.4 403.6 L219.8 401.9 L225.3 397.7 L231.9 396.7 L237.8 393.4 L244.6 392.8 L250.5 389.9 M250.5 389.9 L249.6 389.5 L248.9 388.8 M203.3 400.1 L208.2 402.3 L213.4 403.6 M245.2 350.2 L243.3 356.0 L241.4 361.9 L238.5 367.5 M226.4 414.2 L226.9 419.1 L227.7 423.9 M226.4 414.2 L231.7 417.0 L238.2 416.9 L243.2 420.6 M227.7 423.9 L234.9 421.6 L242.5 421.6 M243.2 420.6 L242.5 420.8 L242.5 421.6 M224.2 453.4 L224.9 446.0 L227.7 438.9 L227.6 431.4 L227.7 423.9 M226.2 452.7 L225.6 454.3 L224.2 453.4 M226.2 452.7 L230.1 446.9 L232.0 440.0 L235.7 433.9 L239.4 427.9 L242.5 421.6 M255.1 414.6 L257.5 420.5 L260.7 425.9 L266.0 429.8 L269.5 435.0 M255.1 414.6 L249.5 418.3 L243.2 420.6 M264.4 449.3 L258.1 450.2 L251.5 448.4 L245.3 450.8 L238.9 451.5 L232.7 453.8 L226.2 452.7 M250.9 390.1 L251.1 397.0 L251.0 403.8 M250.9 390.1 L257.2 386.8 L262.1 381.6 L268.2 378.0 M268.2 378.0 L274.1 379.8 L280.2 380.0 M254.9 412.4 L261.2 409.0 L267.5 405.5 L274.0 402.4 L280.7 399.7 M254.9 412.4 L253.7 407.8 L251.0 403.8 M280.2 380.0 L280.1 386.5 L282.4 393.0 L280.7 399.7 M222.6 408.4 L218.3 405.5 L213.4 403.6 M222.6 408.4 L229.9 408.9 L236.7 405.7 L244.0 405.6 L251.0 403.8 M264.8 371.3 L266.1 374.9 L268.2 378.0 M294.6 373.2 L287.6 377.1 L280.2 380.0 M255.1 414.6 L256.5 413.4 L254.9 412.4 M286.3 409.4 L284.5 404.0 L280.7 399.7 M222.6 408.4 L224.4 411.4 L226.4 414.2 M491.4 578.5 L494.5 573.5 L496.9 568.0 M491.4 578.5 L484.7 578.5 L478.0 577.3 M478.0 577.3 L476.6 575.0 L476.6 572.3 M476.6 572.3 L478.8 565.6 L481.9 559.4 L484.3 552.8 M496.9 568.0 L497.5 564.5 L497.2 560.9 M484.3 552.8 L490.7 556.9 L497.2 560.9 M455.3 557.5 L461.6 559.9 L466.3 564.4 L471.5 568.3 L476.6 572.3 M466.2 590.7 L470.5 582.5 L478.0 577.3 M480.0 545.3 L481.1 549.7 L484.3 552.8 M515.4 549.9 L514.6 552.3 L512.3 553.2 M512.3 553.2 L504.7 556.9 L497.2 560.9 M518.9 580.6 L516.2 573.8 L513.0 567.2 M518.9 580.6 L516.1 581.1 L513.2 581.1 M513.2 581.1 L509.3 576.2 L504.9 571.7 M513.0 567.2 L509.2 569.9 L504.9 571.7 M512.3 553.2 L512.7 560.2 L513.0 567.2 M496.9 568.0 L501.0 569.6 L504.9 571.7 M491.4 578.5 L493.6 579.2 L493.3 581.4 M513.2 581.1 L511.7 583.1 L509.1 583.2 M509.1 583.2 L501.0 583.5 L493.3 581.4 M475.8 483.4 L474.4 474.8 L475.1 466.2 M492.8 474.4 L493.0 476.2 L493.3 478.0 M492.4 473.7 L486.4 471.6 L480.4 469.8 L475.1 466.2 M547.2 544.8 L553.2 540.2 L557.3 533.7 M557.3 533.7 L562.9 535.0 L568.6 534.7 M562.3 557.6 L565.9 549.5 L570.2 541.7 M568.6 534.7 L569.7 538.1 L570.2 541.7 M564.3 560.6 L570.7 557.7 L577.6 555.9 L583.7 552.2 M570.2 541.7 L576.9 546.9 L583.7 552.2 M586.7 553.2 L584.7 554.1 L583.7 552.2 M728.0 391.2 L722.1 391.8 L716.5 390.2 M709.3 368.5 L706.8 369.4 L704.2 369.2 M716.5 390.2 L711.3 386.0 L708.0 380.2 M708.0 380.2 L706.4 374.6 L704.2 369.2 M544.9 325.5 L543.5 330.5 L542.8 335.6 M544.9 325.5 L539.2 322.6 L533.2 321.1 L526.8 321.0 L520.9 318.9 M527.1 350.6 L523.7 345.4 L517.2 343.5 L513.4 338.7 L509.1 334.3 M520.9 318.9 L517.6 324.5 L512.6 328.9 L509.1 334.3 M527.1 350.6 L530.2 352.0 L533.5 352.7 M542.8 335.6 L538.9 340.9 L536.1 346.8 L533.5 352.7 M671.6 320.2 L676.8 318.0 L682.4 318.2 M671.6 320.2 L675.6 325.2 L678.0 331.0 L681.2 336.4 L683.3 342.4 M682.4 318.2 L686.3 321.6 L689.9 325.3 M683.3 342.4 L683.8 336.1 L686.0 330.4 L689.9 325.3 M668.0 318.7 L667.2 319.5 L668.1 320.2 M668.1 320.2 L669.8 319.7 L671.6 320.2 M688.5 308.5 L686.0 313.7 L682.4 318.2 M712.0 333.6 L704.9 330.2 L697.4 327.7 L689.9 325.3 M442.1 415.1 L442.5 421.6 L441.3 428.0 L442.8 434.5 L441.5 441.0 M431.2 441.9 L436.3 440.3 L441.5 441.0 M431.2 441.9 L426.6 437.7 L423.2 432.7 L420.6 427.0 L416.0 422.8 L412.1 418.1 L408.8 412.9 M442.1 415.1 L435.6 411.8 L428.6 409.7 L421.5 408.0 M408.8 412.9 L415.1 410.4 L421.5 408.0 M378.3 348.0 L377.5 348.7 L378.4 349.3 M343.8 353.6 L351.4 355.2 L359.0 356.2 L366.5 357.7 M366.5 357.7 L373.1 354.4 L378.4 349.3 M452.4 474.6 L445.9 476.5 L438.8 476.4 L432.5 478.9 L426.4 482.2 L419.6 483.0 M452.4 474.6 L455.2 480.2 L457.9 485.8 L459.0 492.3 L463.6 497.0 M463.6 497.0 L457.5 497.0 L451.4 498.4 L445.2 498.3 L439.0 499.0 L432.8 498.9 L426.7 499.4 M419.6 483.0 L422.1 491.7 L426.7 499.4 M431.2 441.9 L427.0 446.6 L422.4 451.1 L418.9 456.4 L414.5 461.0 L411.2 466.6 L407.2 471.5 M441.5 441.0 L442.9 442.0 L444.7 441.9 M456.8 466.7 L453.6 460.6 L451.6 453.9 L446.7 448.6 L444.7 441.9 M410.6 477.6 L414.5 481.4 L419.6 483.0 M456.8 466.7 L453.7 470.1 L452.4 474.6 M456.8 466.7 L464.5 465.3 L472.1 463.5 M475.1 466.2 L474.0 464.4 L472.1 463.5 M466.8 500.4 L465.0 498.9 L463.6 497.0 M428.9 513.1 L428.0 506.2 L426.7 499.4 M222.6 454.3 L221.4 455.4 L219.7 455.1 M222.6 454.3 L226.6 459.5 L231.7 463.6 L236.7 467.8 L239.5 474.2 L246.5 476.6 L249.9 482.4 L253.8 487.7 M219.7 455.1 L218.1 461.4 L217.9 467.9 L217.3 474.4 L214.0 480.5 L215.2 487.2 L214.2 493.6 L213.0 500.0 M253.8 487.7 L249.1 491.8 L244.9 496.3 L241.0 501.2 L236.7 505.6 M236.7 505.6 L230.4 508.7 L223.4 508.7 M223.4 508.7 L217.7 504.9 L213.0 500.0 M224.2 453.4 L223.7 454.5 L222.6 454.3 M215.6 452.9 L217.2 454.9 L219.7 455.1 M274.0 479.9 L267.0 481.9 L260.1 484.1 L253.8 487.7 M189.1 502.0 L195.1 501.7 L201.1 501.0 L206.8 497.4 L213.0 500.0 M267.5 521.8 L261.6 518.1 L254.9 515.8 L249.5 511.2 L243.4 507.8 L236.7 505.6 M224.2 555.9 L225.7 549.1 L224.4 542.4 L223.0 535.7 L225.1 528.9 L223.5 522.2 L223.1 515.4 L223.4 508.7 M553.4 310.5 L547.1 304.6 L539.7 300.3 M549.0 323.1 L551.7 317.0 L553.4 310.5 M520.9 318.9 L520.4 315.6 L518.3 313.0 M549.0 323.1 L547.0 324.5 L544.9 325.5 M539.7 300.3 L532.6 301.0 L525.8 303.1 L518.8 304.4 M518.3 313.0 L519.3 308.7 L518.8 304.4 M382.6 297.7 L386.9 297.2 L391.0 296.0 M401.3 291.8 L397.2 296.5 L391.0 296.0 M401.3 291.8 L403.1 285.9 L405.5 280.2 L408.1 274.6 L409.4 268.6 M612.2 277.1 L605.0 281.3 L597.8 285.5 M597.8 285.5 L596.2 284.8 L594.5 284.7 M594.5 284.7 L590.6 282.6 L589.6 278.2 M492.0 278.6 L493.1 286.4 L494.1 294.1 M517.0 293.5 L509.4 294.0 L501.7 293.1 L494.1 294.1 M517.0 293.5 L518.9 289.9 L520.2 286.0 M517.0 293.5 L518.3 298.9 L518.8 304.4 M539.7 300.3 L536.0 294.2 L535.5 286.8 L531.8 280.8 M483.0 604.6 L486.3 597.7 L489.9 591.0 L493.3 584.2 M483.0 604.6 L485.6 607.3 L487.1 610.9 M491.1 617.2 L491.6 619.6 L493.5 621.0 M493.3 584.2 L496.2 589.6 L500.7 593.9 L504.3 598.8 M504.8 601.7 L503.6 600.4 L504.3 598.8 M467.5 594.0 L472.9 597.2 L478.2 600.6 L483.0 604.6 M493.3 581.4 L494.0 582.8 L493.3 584.2 M509.1 583.2 L508.5 591.5 L504.3 598.8 M685.2 346.7 L686.4 352.8 L687.3 358.8 M685.2 346.7 L693.8 344.4 L702.7 344.0 M687.3 358.8 L694.2 359.3 L700.5 356.5 M702.7 344.0 L700.9 350.2 L700.5 356.5 M683.3 345.8 L683.7 347.5 L685.2 346.7 M683.3 345.8 L683.3 344.1 L683.3 342.4 M703.1 368.5 L701.3 362.6 L700.5 356.5 M703.1 368.5 L695.9 368.8 L688.6 369.1 M688.6 369.1 L687.4 365.5 L686.6 361.8 M686.6 361.8 L687.5 360.5 L687.3 358.8 M703.1 368.5 L703.4 369.2 L704.1 369.2 M668.6 365.6 L672.2 362.6 L676.4 360.4 M668.6 365.6 L665.4 357.8 L661.4 350.3 M676.4 360.4 L676.2 353.3 L678.9 346.7 M661.4 350.3 L670.1 348.2 L678.8 346.6 M688.6 369.1 L687.7 369.6 L687.4 370.7 M687.4 370.7 L681.0 371.4 L674.6 371.7 L668.2 372.3 M668.2 372.3 L668.2 368.9 L668.6 365.6 M686.6 361.8 L681.3 362.5 L676.4 360.4 M683.3 345.8 L681.1 346.4 L678.9 346.7 M664.4 324.5 L668.7 329.6 L671.1 335.9 L675.0 341.3 L678.8 346.6 M654.5 346.6 L656.1 340.7 L660.9 336.2 L661.6 329.9 L664.4 324.5 M654.5 346.6 L658.1 348.3 L661.4 350.3 M664.9 322.3 L666.6 321.4 L668.1 320.2 M664.9 322.3 L665.5 323.6 L664.4 324.5 M496.2 328.2 L489.8 323.7 L482.1 321.3 L475.6 316.8 M468.3 324.8 L471.6 320.4 L475.6 316.8 M496.2 328.2 L498.0 332.8 L499.3 337.5 M468.3 324.8 L470.6 331.0 L474.7 336.3 M474.7 336.3 L480.8 337.9 L487.1 335.8 L493.2 336.8 L499.3 337.5 M613.1 307.5 L615.9 314.0 L620.4 319.4 L624.8 324.8 M613.1 307.5 L620.5 304.9 L627.0 300.5 M627.0 300.5 L626.1 306.6 L627.5 312.8 L624.6 318.7 L624.8 324.8 M601.1 309.3 L599.5 303.5 L598.8 297.5 L598.1 291.5 L597.8 285.5 M630.2 294.5 L628.5 297.4 L627.0 300.4 M626.9 286.4 L629.2 290.2 L630.2 294.5 M601.1 309.3 L607.1 308.2 L613.1 307.5 M629.0 334.5 L627.7 334.8 L626.5 334.2 M629.0 334.5 L633.7 328.1 L639.5 322.7 M626.5 334.2 L626.4 329.4 L624.8 324.8 M639.5 322.7 L636.0 317.3 L632.2 312.1 L631.3 305.3 L627.0 300.4 M614.7 336.0 L620.4 335.7 L626.0 334.3 M614.7 336.0 L608.7 329.5 L601.3 324.8 M601.3 324.8 L598.2 322.1 L596.6 318.2 M601.1 309.3 L599.1 312.5 L597.5 315.9 M596.6 318.2 L598.2 317.5 L597.5 315.9 M394.8 424.4 L399.9 419.8 L404.6 414.9 M363.9 401.8 L366.3 398.4 L366.4 394.2 M404.6 414.9 L398.8 412.7 L393.7 408.9 L388.4 405.8 L382.6 403.3 L377.4 400.0 L371.0 398.8 L366.4 394.2 M404.6 414.9 L405.3 412.2 L408.1 412.8 M388.8 352.8 L389.5 353.3 L390.3 352.8 M378.4 349.3 L383.8 350.2 L388.8 352.8 M387.6 316.9 L393.8 320.7 L401.4 320.2 L407.9 323.1 M390.3 352.8 L394.3 347.1 L397.9 341.3 L399.7 334.3 L403.5 328.5 L407.9 323.1 M391.0 296.0 L396.5 298.5 L401.8 301.3 L407.2 303.9 L411.7 308.2 L417.0 311.1 M401.3 291.8 L408.2 292.6 L415.0 294.3 L421.9 295.5 M417.0 311.1 L420.1 303.5 L421.9 295.5 M407.9 323.1 L412.1 322.9 L416.3 323.0 M417.0 311.1 L417.0 317.1 L416.3 323.0 M419.2 267.1 L422.1 272.6 L423.3 278.8 L425.9 284.5 L428.2 290.2 M421.9 295.5 L424.1 291.8 L428.2 290.2 M399.9 355.6 L395.7 352.2 L390.3 352.8 M399.9 355.6 L403.0 350.4 L406.4 345.4 L409.5 340.1 L412.1 334.7 L414.9 329.3 L417.0 323.6 M431.0 386.5 L431.8 391.3 L431.6 396.3 M431.6 396.3 L433.8 396.8 L436.0 396.5 M460.7 383.6 L454.4 385.3 L449.0 388.6 L444.3 393.1 L438.6 395.9 M460.7 383.6 L461.7 383.0 L460.9 382.2 M438.6 395.9 L437.2 395.9 L436.0 396.5 M431.0 386.5 L434.7 381.4 L436.7 375.6 L439.2 370.0 M439.2 370.0 L443.7 371.4 L448.4 371.5 M460.9 382.2 L454.5 377.0 L448.4 371.5 M450.1 344.8 L457.7 345.6 L465.0 343.9 L472.4 342.9 M450.1 344.8 L452.9 350.8 L455.3 356.9 M472.4 342.9 L472.3 346.6 L472.0 350.4 M455.3 356.9 L463.8 353.9 L472.0 350.4 M448.6 343.4 L449.5 337.1 L447.2 331.2 L446.8 325.0 M448.6 343.4 L443.0 347.3 L437.1 350.6 L432.1 355.3 L426.5 359.1 M434.3 325.5 L429.7 327.5 L424.6 327.9 M434.3 325.5 L439.8 325.5 L445.1 324.5 M445.1 324.5 L445.9 325.0 L446.8 325.0 M424.6 327.9 L425.6 334.0 L424.8 340.2 L423.9 346.4 L426.8 352.5 L425.4 358.6 M425.4 358.6 L426.6 357.3 L426.5 359.1 M472.4 342.9 L473.1 339.5 L474.7 336.3 M468.3 324.8 L463.5 323.8 L458.9 322.2 M450.1 344.8 L449.1 344.3 L448.6 343.4 M458.9 322.2 L453.1 324.5 L446.8 325.0 M448.4 371.5 L450.8 363.7 L455.3 356.9 M439.2 370.0 L433.4 363.9 L426.5 359.1 M417.0 323.6 L420.8 325.8 L424.6 327.9 M412.8 362.9 L406.0 359.7 L399.9 355.6 M412.8 362.9 L418.8 359.9 L425.4 358.6 M412.8 362.9 L411.5 369.2 L408.9 375.2 L407.7 381.5 M407.7 381.5 L415.5 383.0 L423.2 385.0 L431.0 386.5 M515.9 312.7 L509.0 309.8 L502.2 306.5 L494.9 304.6 M515.9 312.7 L508.4 313.8 L500.9 314.5 L493.5 316.5 M494.9 304.6 L492.6 308.9 L490.6 313.3 M493.5 316.5 L492.0 314.9 L490.6 313.3 M493.8 294.5 L492.8 299.7 L494.9 304.6 M518.3 313.0 L517.0 313.7 L515.9 312.7 M476.3 297.7 L485.0 296.1 L493.8 294.5 M476.3 297.7 L476.1 306.0 L477.5 314.3 M477.5 314.3 L484.0 313.0 L490.6 313.3 M496.2 328.2 L495.8 322.2 L493.5 316.5 M475.6 316.8 L476.2 315.2 L477.5 314.3 M457.7 434.7 L455.9 427.6 L456.2 420.3 L455.4 413.1 M457.7 434.7 L463.7 433.9 L469.8 434.5 L475.7 432.6 L481.8 433.3 M481.8 433.3 L477.2 428.3 L470.3 426.4 L465.2 422.1 L460.9 416.9 L455.4 413.1 M444.7 441.9 L451.0 438.0 L457.7 434.7 M472.1 463.5 L473.3 456.6 L477.0 450.9 L481.8 445.8 L483.8 439.3 L486.9 433.3 M486.9 433.3 L484.4 432.7 L481.8 433.3 M455.2 412.6 L459.6 407.0 L463.4 401.0 M455.2 412.6 L448.6 413.3 L442.2 415.0 M442.2 415.0 L441.9 410.0 L443.3 405.2 M443.3 405.2 L445.6 403.3 L448.1 401.9 M448.1 401.9 L455.7 402.0 L463.2 400.5 M496.6 427.7 L492.0 431.0 L486.9 433.3 M496.6 427.7 L492.8 422.8 L488.0 418.9 L482.5 415.8 L477.7 412.0 L473.9 407.1 M473.9 407.1 L469.4 402.8 L463.4 401.0 M421.5 408.0 L426.4 402.0 L431.6 396.3 M436.0 396.5 L439.1 401.3 L443.3 405.2 M438.6 395.9 L443.6 398.5 L448.1 401.9 M460.7 383.6 L461.2 392.2 L463.2 400.5 M716.5 390.2 L709.5 391.3 L702.4 392.5 M708.0 380.2 L705.2 384.3 L701.1 386.9 M701.1 386.9 L703.1 389.3 L702.0 392.2 M700.0 379.1 L698.1 380.9 L699.7 382.9 M700.0 379.1 L693.8 380.0 L687.7 378.8 M699.7 382.9 L693.3 383.5 L686.9 383.0 M687.7 378.8 L689.0 381.2 L686.9 383.0 M704.1 369.2 L702.4 374.3 L700.0 379.1 M701.1 386.9 L701.7 384.4 L699.7 382.9 M687.4 370.7 L688.1 374.7 L687.7 378.8 M683.0 390.6 L684.4 386.5 L686.9 383.0 M683.0 390.6 L685.6 393.5 L689.3 394.9 M702.0 392.2 L695.7 393.9 L689.3 394.9 M672.1 391.2 L666.4 387.4 L661.5 382.7 M668.2 372.3 L665.5 377.9 L661.5 382.7 M672.1 391.2 L677.6 391.4 L683.0 390.6 M672.1 391.2 L671.3 396.6 L671.6 402.1 M689.3 394.9 L691.4 401.6 L692.4 408.4 L691.5 415.5 M691.5 415.5 L682.5 414.8 L673.5 414.3 M671.6 402.1 L673.9 408.0 L673.5 414.3 M473.9 407.1 L477.3 401.1 L481.9 395.8 L484.4 389.2 L489.0 383.9 L492.2 377.8 M460.9 382.2 L467.1 378.1 L474.0 375.6 L480.8 372.8 M492.2 377.8 L485.9 376.9 L480.8 372.8 M472.0 350.4 L476.1 357.6 L479.9 364.9 M480.8 372.8 L479.9 368.9 L479.9 364.9 M568.6 534.7 L573.4 530.8 L577.0 525.7 L582.5 522.5 L585.9 517.2 M599.3 523.7 L592.8 520.0 L585.9 517.2 M661.5 382.7 L656.4 384.2 L651.2 383.5 M654.5 346.6 L652.9 347.5 L651.1 347.6 M651.1 347.6 L650.1 355.2 L646.4 362.4 L646.9 370.3 M651.2 383.5 L649.9 376.6 L646.9 370.3 M651.1 347.6 L644.8 343.8 L637.4 343.1 M637.4 343.1 L633.9 349.1 L632.3 355.9 L629.8 362.4 M646.9 370.3 L641.0 368.1 L636.2 363.6 L629.8 362.4 M637.4 343.1 L633.4 338.6 L629.0 334.5 M626.0 334.3 L626.6 341.1 L624.0 347.4 L622.3 353.8 L623.2 360.7 L621.1 367.1 M629.8 362.4 L624.9 363.7 L621.1 367.1 M651.7 294.6 L644.5 295.7 L637.3 296.5 M651.7 294.6 L652.0 302.5 L649.4 310.5 L652.4 318.3 M637.3 296.5 L640.2 303.9 L643.8 311.1 L646.6 318.6 M652.4 318.3 L649.5 317.8 L646.6 318.6 M652.9 293.9 L652.4 294.4 L651.7 294.6 M630.2 294.5 L633.5 296.5 L637.3 296.5 M664.9 322.3 L658.7 320.0 L652.4 318.3 M639.5 322.7 L643.0 320.6 L646.6 318.6 M580.3 291.1 L574.1 286.7 L570.2 280.0 L564.6 275.0 M580.3 291.1 L578.8 293.1 L577.3 295.1 M577.3 295.1 L572.2 298.6 L567.7 302.8 M555.5 289.6 L560.7 282.7 L564.6 275.0 M555.5 289.6 L556.0 296.9 L559.1 303.5 M559.1 303.5 L563.4 303.1 L567.7 302.8 M594.5 284.7 L587.1 287.3 L580.3 291.1 M565.4 268.6 L564.6 271.7 L564.6 275.0 M597.5 315.9 L592.8 310.4 L586.4 306.4 L583.3 299.3 L577.3 295.1 M596.6 318.2 L591.8 318.0 L587.5 320.1 M587.5 320.1 L583.9 314.3 L577.0 312.1 L572.9 306.9 L567.7 302.8 M535.3 279.6 L541.6 283.8 L548.8 286.2 L555.5 289.6 M553.4 310.5 L556.5 307.2 L559.1 303.5 M407.1 382.4 L407.1 381.8 L407.7 381.5 M407.1 382.4 L406.9 386.1 L404.5 388.8 M408.1 412.8 L406.0 404.0 L403.9 395.3 M404.5 388.8 L404.5 392.1 L403.9 395.3 M366.4 394.2 L367.2 391.7 L366.5 389.1 M403.9 395.3 L397.4 396.1 L391.8 391.4 L385.4 391.4 L379.0 391.0 L372.8 389.9 L366.5 389.1 M366.5 357.7 L367.2 364.3 L367.5 371.0 L368.3 377.6 L368.2 384.3 M355.3 386.8 L360.8 388.4 L366.5 389.0 M368.2 384.3 L369.1 387.3 L366.5 389.0 M458.9 322.2 L457.7 315.1 L458.7 308.0 M476.3 297.7 L473.9 296.6 L472.6 294.5 M458.7 308.0 L463.7 303.9 L467.7 298.8 L472.6 294.5 M470.2 274.3 L470.1 281.4 L469.4 288.4 M472.6 294.5 L470.7 291.6 L469.4 288.4 M428.2 290.2 L429.5 291.2 L431.1 290.8 M440.5 265.7 L442.0 273.6 L444.8 281.1 M444.8 281.1 L437.9 285.9 L431.1 290.8 M464.2 271.3 L458.6 274.5 L453.2 277.8 L447.5 280.8 M444.8 281.1 L446.2 281.2 L447.5 280.8 M469.4 288.4 L462.6 290.7 L455.9 293.6 M447.5 280.8 L451.6 287.2 L455.9 293.6 M434.3 325.5 L434.1 318.7 L432.8 311.9 L431.7 305.2 L431.5 298.3 L431.7 291.5 M458.7 308.0 L455.5 303.0 L452.2 298.1 M452.2 298.1 L453.8 295.6 L455.9 293.6 M702.7 394.1 L701.0 400.1 L700.1 406.4 L696.4 411.7 L694.5 417.6 M702.7 394.1 L705.3 401.9 L708.5 409.4 M694.5 417.6 L697.7 419.6 L699.9 422.5 M702.4 392.5 L703.4 393.2 L702.7 394.1 M691.5 415.5 L692.9 416.7 L694.5 417.6 M479.9 364.9 L484.3 359.4 L489.6 354.6 L493.8 348.8 L498.8 343.7 M498.8 343.7 L498.1 340.5 L500.1 337.9 M509.1 334.3 L505.4 335.9 L501.7 337.6 M501.7 337.6 L500.9 337.6 L500.1 337.9 M605.9 477.8 L602.7 474.8 L600.2 471.2 M600.2 471.2 L593.4 472.4 L586.7 473.8 M583.9 493.4 L589.0 488.9 L596.1 487.2 L600.4 481.6 L605.9 477.8 M583.9 493.4 L580.9 493.8 L578.3 495.1 M586.7 473.8 L583.7 480.9 L580.5 487.8 L578.3 495.1 M614.7 336.0 L611.1 341.0 L608.9 346.8 L606.1 352.3 M621.1 367.1 L619.5 367.1 L619.0 368.6 M619.0 368.6 L615.2 362.8 L610.5 357.6 L606.1 352.3 M520.1 372.0 L525.0 376.1 L530.4 379.5 L536.1 382.3 M536.1 382.3 L542.2 380.1 L548.3 378.0 L553.4 373.9 M534.2 355.3 L538.0 360.7 L543.4 364.3 L547.6 369.2 L553.5 372.2 M534.2 355.3 L528.7 360.2 L524.6 366.2 L520.1 372.0 M553.5 372.2 L552.2 372.9 L553.4 373.9 M388.9 381.5 L383.7 381.0 L378.4 381.3 M388.9 381.5 L389.2 377.1 L390.3 372.8 M378.4 381.3 L383.9 376.1 L388.9 370.5 M390.3 372.8 L390.5 371.1 L388.9 370.5 M404.5 388.8 L397.2 384.1 L388.9 381.5 M368.2 384.3 L373.4 383.1 L378.4 381.3 M407.1 382.4 L401.3 379.6 L395.8 376.2 L390.3 372.8 M388.8 352.8 L388.8 361.6 L388.9 370.5 M444.5 319.8 L446.0 312.7 L445.7 305.5 L447.1 298.5 M444.5 319.8 L440.2 315.0 L437.9 309.3 L438.3 302.4 L433.0 298.0 L432.0 291.7 M432.0 291.7 L439.7 294.7 L447.1 298.5 M445.1 324.5 L445.7 322.0 L444.5 319.8 M452.2 298.1 L449.6 298.9 L447.1 298.5 M582.3 458.8 L585.6 466.0 L586.7 473.8 M600.2 471.2 L600.8 464.6 L602.5 458.1 L603.6 451.6 M582.3 458.8 L589.1 455.2 L596.1 452.0 M596.1 452.0 L599.8 450.6 L603.6 451.6 M619.0 368.6 L616.2 375.9 L617.1 383.7 M595.5 375.7 L592.7 369.8 L588.9 364.5 L585.7 358.8 M595.5 375.7 L602.9 377.0 L608.7 381.6 L615.2 384.9 M606.1 352.3 L599.0 353.2 L592.5 356.4 L585.5 358.0 M615.2 384.9 L615.9 384.0 L617.1 383.7 M651.2 383.5 L648.0 387.1 L644.0 389.7 M617.1 383.7 L623.9 384.9 L630.8 385.6 L637.2 388.3 L644.0 389.7 M671.6 402.1 L664.4 404.9 L656.7 405.7 M656.7 405.7 L653.1 400.0 L647.5 396.0 L644.0 390.3 M533.1 388.4 L526.9 388.0 L520.7 387.5 L514.4 387.2 L508.8 383.1 L502.4 383.7 M502.4 383.7 L501.5 390.8 L504.4 397.4 L505.3 404.2 M533.1 388.4 L531.8 392.6 L532.6 397.0 M532.6 397.0 L525.9 399.0 L518.9 400.3 L511.9 401.4 L505.3 404.2 M492.4 473.7 L494.0 467.9 L496.1 462.2 L496.7 456.0 L501.0 451.2 L501.7 445.0 L504.2 439.5 L506.4 433.9 M496.6 427.7 L498.3 427.2 L500.0 427.5 M506.4 433.9 L505.5 432.7 L505.2 431.3 M500.0 427.5 L502.6 429.3 L505.2 431.3 M500.6 380.0 L499.9 372.5 L500.8 365.1 L501.7 357.7 M501.3 380.4 L505.8 377.0 L510.8 374.5 M510.8 374.5 L512.0 368.4 L512.8 362.2 L514.2 356.1 M501.7 357.7 L507.7 357.8 L513.1 355.3 M514.2 356.1 L512.0 357.9 L513.1 355.3 M492.2 377.8 L496.0 380.6 L500.6 380.0 M498.8 343.7 L499.7 350.8 L501.7 357.7 M502.4 383.7 L501.4 382.2 L501.3 380.4 M505.3 404.2 L502.9 411.8 L502.6 419.9 L500.0 427.5 M520.1 372.0 L515.4 373.2 L510.8 374.5 M536.1 382.3 L534.2 385.2 L533.1 388.4 M533.5 352.7 L533.9 354.0 L534.2 355.3 M527.1 350.6 L520.3 352.5 L514.2 356.1 M501.7 337.6 L505.5 343.5 L509.1 349.6 L513.1 355.3 M546.8 448.3 L546.9 442.2 L546.4 436.1 L546.9 430.0 M546.9 430.0 L539.7 429.1 L532.5 428.7 L525.3 427.7 L518.1 427.1 M546.8 448.3 L540.6 449.8 L534.4 451.2 L528.5 453.6 M506.4 433.9 L510.0 439.2 L515.6 443.0 L518.5 449.0 M518.1 427.1 L511.4 428.4 L505.2 431.3 M528.5 453.6 L523.5 451.3 L518.5 449.0 M492.8 474.4 L499.6 472.8 L506.3 470.9 L513.0 469.0 M518.5 449.0 L515.9 455.5 L514.6 462.3 L513.0 469.0 M619.0 514.5 L618.2 507.1 L618.9 499.5 L616.4 492.3 M616.4 492.3 L609.8 491.4 L603.4 492.8 L596.9 493.0 L590.4 493.0 L583.9 493.4 M585.9 517.2 L583.2 511.4 L579.5 506.1 L576.5 500.4 M576.5 500.4 L578.6 498.2 L578.2 495.2 M559.5 362.3 L560.3 356.2 L560.2 349.9 M559.5 362.3 L560.1 364.0 L560.0 365.7 M560.0 365.7 L566.1 363.3 L572.6 362.0 L578.6 359.5 L584.9 357.6 M560.2 349.9 L563.7 344.8 L566.9 339.5 L569.0 333.6 M569.0 333.6 L571.4 331.0 L572.9 334.2 M572.9 334.2 L576.3 340.6 L581.3 346.1 L583.6 353.1 M583.6 353.1 L584.8 355.2 L584.9 357.6 M545.5 338.8 L549.6 344.3 L552.1 350.8 L556.4 356.3 L559.5 362.3 M545.5 338.8 L550.5 342.5 L555.9 345.5 L560.2 349.9 M542.8 335.6 L542.9 338.3 L545.5 338.8 M553.5 372.2 L556.9 369.1 L560.0 365.7 M549.0 323.1 L556.1 325.7 L562.2 330.2 L569.0 333.6 M587.5 320.1 L582.2 324.4 L577.7 329.5 L572.9 334.2 M601.3 324.8 L598.0 330.6 L593.4 335.6 L590.2 341.5 L587.9 347.9 L583.6 353.1 M595.5 375.7 L591.0 380.1 L587.3 385.2 L583.5 390.1 M585.7 358.8 L582.2 365.9 L580.5 373.7 L577.9 381.2 M583.5 390.1 L582.4 384.6 L577.9 381.2 M553.4 373.9 L554.0 376.2 L555.5 378.0 M577.9 381.2 L570.5 379.7 L562.8 380.4 L555.5 378.0 M571.4 439.2 L568.6 435.6 L568.2 430.9 M571.4 439.2 L570.4 440.3 L569.9 441.6 M569.9 441.6 L564.4 438.6 L558.9 435.5 L553.5 432.1 L548.1 428.9 M568.2 430.9 L563.2 427.1 L557.2 425.1 L551.4 422.7 M548.1 428.9 L550.3 426.1 L551.4 422.7 M557.7 453.5 L563.0 452.5 L567.8 450.1 M557.7 453.5 L555.3 459.1 L554.5 465.2 L553.4 471.2 M553.4 471.2 L560.5 474.5 L567.2 478.3 M567.2 478.3 L569.7 471.0 L572.0 463.7 L575.5 456.8 M575.5 456.8 L572.2 452.7 L567.8 450.1 M546.8 448.3 L552.1 451.1 L557.7 453.5 M546.9 430.0 L548.5 430.5 L548.1 428.9 M569.9 441.6 L568.5 445.8 L567.8 450.1 M528.5 453.6 L529.7 457.3 L531.5 460.6 M531.5 460.6 L537.8 464.0 L542.2 469.7 L547.4 474.5 M547.4 474.5 L550.1 472.2 L553.4 471.2 M582.3 458.8 L578.7 458.4 L575.5 456.8 M578.2 495.2 L574.9 489.3 L572.1 483.2 L567.2 478.3 M581.7 434.3 L587.1 439.7 L591.1 446.3 L596.1 452.0 M581.7 434.3 L576.0 435.7 L571.4 439.2 M697.5 442.3 L693.4 448.4 L688.2 453.4 L682.0 457.5 L677.8 463.4 M673.5 414.3 L672.5 414.3 L672.5 415.3 M656.7 405.7 L657.8 408.8 L658.4 412.0 M672.5 415.3 L665.8 412.1 L658.4 412.0 M542.8 484.7 L548.0 489.5 L553.7 493.7 L560.6 496.2 L565.2 501.9 M542.8 484.7 L536.6 488.2 L529.5 489.8 L523.4 493.4 M527.3 509.8 L534.1 512.3 L540.7 515.4 M527.3 509.8 L522.8 504.6 L519.9 498.4 M565.2 501.9 L558.6 506.3 L552.2 510.9 L545.8 515.5 M519.9 498.4 L521.2 496.5 L522.1 494.4 M545.8 515.5 L543.3 515.1 L540.7 515.4 M522.1 494.4 L522.5 493.6 L523.4 493.4 M547.4 474.5 L544.8 479.5 L542.8 484.7 M576.5 500.4 L570.8 500.7 L565.2 501.9 M531.5 460.6 L528.3 466.8 L527.0 473.4 L526.8 480.3 L523.8 486.5 L523.4 493.4 M522.8 521.0 L527.3 516.3 L527.3 509.8 M537.1 539.1 L537.4 531.1 L539.6 523.3 L540.7 515.4 M501.0 499.7 L507.4 500.3 L513.6 499.1 L519.9 498.4 M557.3 533.7 L552.9 528.1 L550.4 521.1 L545.8 515.5 M513.0 469.0 L515.2 475.4 L517.4 481.8 L519.8 488.1 L522.1 494.4 M557.0 385.7 L561.3 392.8 L566.4 399.4 M557.0 385.7 L553.1 390.6 L548.7 395.1 L543.9 399.2 L539.6 403.7 M566.4 399.4 L565.8 404.4 L564.1 409.1 M564.1 409.1 L559.6 414.3 L552.8 414.8 M552.8 414.8 L546.3 411.8 L540.5 407.5 M540.5 407.5 L539.0 405.9 L539.6 403.7 M583.5 390.1 L584.4 392.3 L583.2 394.4 M583.2 394.4 L574.7 396.5 L566.4 399.4 M555.5 378.0 L556.0 381.9 L557.0 385.7 M532.6 397.0 L536.0 400.4 L539.6 403.7 M551.4 422.7 L553.9 419.1 L552.8 414.8 M569.9 414.5 L568.7 422.7 L568.2 430.9 M569.9 414.5 L566.9 411.9 L564.1 409.1 M518.1 427.1 L523.7 422.2 L529.1 417.0 L534.6 412.0 L540.5 407.5 M586.5 427.8 L588.6 428.1 L590.7 427.7 M586.5 427.8 L584.0 422.6 L581.4 417.6 M590.7 427.7 L592.4 421.2 L594.6 414.9 L597.8 409.0 L599.9 402.7 M581.4 417.6 L585.0 412.1 L589.4 407.3 L593.2 402.1 M593.2 402.1 L596.6 401.6 L599.9 402.7 M581.7 434.3 L582.8 430.1 L586.5 427.8 M605.2 434.1 L598.1 432.5 L592.3 428.1 M592.3 428.1 L591.4 428.2 L590.7 427.7 M603.6 451.6 L605.0 452.4 L605.1 450.8 M605.1 450.8 L606.3 445.5 L607.8 440.3 M607.8 440.3 L605.1 437.7 L605.2 434.1 M569.9 414.5 L575.5 416.5 L581.4 417.6 M583.2 394.4 L587.0 399.8 L593.2 402.1 M647.5 469.0 L645.1 462.3 L641.5 456.2 M637.8 483.2 L631.5 483.9 L625.2 484.3 L618.8 484.0 M620.6 460.8 L626.4 457.4 L633.2 456.9 L639.4 454.6 M620.6 460.8 L618.1 467.5 L617.7 474.6 L617.6 481.7 M639.4 454.6 L639.8 456.2 L641.5 456.2 M618.8 484.0 L617.6 483.2 L617.6 481.7 M616.4 492.3 L617.7 488.2 L618.8 484.0 M620.3 437.3 L624.8 441.6 L630.0 444.9 L634.7 448.9 L639.1 453.3 M639.1 453.3 L638.2 454.1 L639.4 454.6 M605.1 450.8 L610.0 454.5 L616.2 456.2 L620.6 460.8 M607.8 440.3 L613.8 437.8 L620.3 437.3 M605.9 477.8 L611.9 479.4 L617.6 481.7 M677.1 463.6 L674.2 455.4 L670.9 447.4 M690.7 435.2 L683.1 439.1 L674.6 439.0 M674.6 439.0 L673.5 443.6 L670.9 447.4 M641.5 456.2 L648.8 454.7 L654.5 449.7 L661.4 447.3 M670.9 447.4 L666.1 448.6 L661.4 447.3 M640.0 422.6 L641.0 425.9 L642.8 428.9 M640.0 422.6 L644.2 421.5 L648.2 419.6 M648.2 419.6 L655.5 420.1 L662.6 421.4 L669.5 423.6 M642.8 428.9 L648.0 429.7 L652.8 432.1 M652.8 432.1 L660.7 429.1 L669.1 428.8 M669.5 423.6 L670.9 426.3 L669.1 428.8 M658.4 412.0 L652.6 414.8 L648.2 419.6 M672.5 415.3 L670.2 419.1 L669.5 423.6 M639.1 453.3 L639.2 447.1 L642.3 441.3 L641.5 434.9 L642.8 428.9 M661.4 447.3 L657.0 439.8 L652.8 432.1 M674.6 439.0 L672.8 433.4 L669.1 428.8 M608.0 407.2 L610.4 411.5 L612.7 415.8 M608.0 407.2 L608.0 404.3 L606.1 402.2 M609.6 397.1 L615.8 399.1 L620.7 403.5 L627.6 403.9 L632.7 408.1 L638.1 411.5 M609.6 397.1 L608.9 400.4 L606.1 402.2 M612.7 415.8 L619.4 417.7 L626.3 419.2 L632.8 421.7 M632.8 421.7 L634.9 419.5 L637.7 420.8 M638.1 411.5 L638.8 416.2 L637.7 420.8 M605.2 434.1 L607.0 427.7 L610.7 422.1 L612.7 415.8 M592.3 428.1 L595.9 422.6 L599.6 417.3 L602.6 411.3 L608.0 407.2 M599.9 402.7 L603.2 405.1 L606.1 402.2 M644.0 390.3 L641.8 397.3 L639.7 404.4 L638.1 411.5 M615.2 384.9 L613.8 391.6 L609.6 397.1 M620.3 437.3 L625.6 433.0 L628.5 426.8 L632.8 421.7 M640.0 422.6 L639.4 421.0 L637.7 420.8" fill="none" stroke="#e2e2e2" stroke-width="0.9"/>
<g fill="none" stroke="#858585" stroke-width="1.5" stroke-linejoin="round">
<polyline points="194.0,390.0 194.5,405.2 200.4,420.4 208.6,427.4 227.3,429.8 248.4,432.8 262.5,431.4 281.2,427.4 300.0,423.4"/>
<polyline points="300.0,423.4 318.7,419.2 330.5,415.7 334.0,407.5 330.5,399.3 323.4,393.4 314.0,392.3 300.0,388.7 297.9,380.6 289.1,378.7 271.5,372.8 269.5,357.2 274.4,342.0"/>
<polyline points="323.4,393.4 343.8,390.4 351.6,392.3 358.1,388.5"/>
<polyline points="361.3,271.5 355.5,283.0 352.5,290.8 356.4,298.6 358.4,310.3 359.4,322.0 345.7,324.0 343.8,347.4 359.4,348.4 363.3,343.5 363.3,327.9 375.0,318.1 398.4,315.2 419.9,310.3"/>
<polyline points="359.4,348.4 375.0,349.4 378.9,357.2 367.2,365.0 359.4,376.7 358.1,388.5"/>
<polyline points="358.1,388.5 376.9,393.2 390.9,399.1 399.1,406.1 400.3,413.1 409.7,408.4 419.1,396.7 433.1,388.5 447.2,381.5 451.9,370.9 447.2,363.9 428.4,361.6 424.9,352.2 426.1,340.5 419.1,326.4 419.9,310.3"/>
<polyline points="410.2,267.3 417.0,275.0 421.9,287.0 423.8,298.6 418.0,306.4 419.9,310.3"/>
<polyline points="447.2,381.5 470.6,379.1 494.0,378.0 515.1,378.0"/>
<polyline points="515.1,378.0 515.6,383.1 510.9,389.4 512.5,397.2 523.4,401.9 525.0,408.1 526.6,415.9 523.4,419.1 515.6,425.3 506.3,426.9 493.8,425.3 484.4,425.3 470.3,426.9 465.6,433.1 467.2,437.8 473.4,440.9 478.1,445.6 470.3,451.9 475.0,455.0 473.4,459.7 468.8,464.4 462.5,465.2 453.1,466.7 446.9,465.2 439.1,463.6 431.3,462.8 423.4,459.7 421.9,453.4 420.3,445.6 423.4,442.5 428.1,434.7 432.8,426.9 431.3,423.8 423.4,414.4 415.6,408.1 407.8,410.5 400.0,412.0"/>
<polyline points="409.4,395.6 431.3,389.4 440.6,383.1 447.2,381.5"/>
<polyline points="409.4,395.6 415.6,403.4 417.2,408.9"/>
<polyline points="400.0,412.0 396.0,425.0 392.0,436.0 390.0,442.7 400.3,444.8 420.3,445.6"/>
<polyline points="468.8,464.4 475.0,470.6 473.4,476.9 462.5,481.6 451.6,486.3 443.8,489.4 440.6,500.0"/>
<polyline points="475.0,455.0 487.5,453.4 500.0,453.4 509.4,451.9 515.6,451.9 518.8,461.3 523.4,467.5 525.0,473.8 531.3,480.0 540.6,481.6 556.3,480.0"/>
<polyline points="229.7,498.9 245.4,499.8 268.8,492.9 276.6,497.8 284.5,509.5 294.2,514.4 313.8,509.5 329.4,507.6 352.8,505.6 364.5,495.9 370.3,482.5 360.9,473.1 360.9,463.7 370.3,452.0 375.0,445.0 390.0,442.7"/>
<polyline points="300.0,423.4 300.0,432.1 283.6,440.3 260.1,447.3 242.6,448.5 235.5,460.2 244.9,470.8 244.9,480.1 229.7,487.2 227.3,498.9 219.1,510.6 196.9,516.5 173.4,522.3 150.2,527.0 137.8,529.0 129.5,531.1 144.0,512.5 142.0,500.0 144.0,494.9 117.1,495.9 96.4,493.8 86.1,492.8"/>
<polyline points="131.0,617.0 133.7,603.6 142.0,589.1 152.3,580.8 170.9,578.7 183.4,576.6 195.8,584.9 212.3,580.8 220.6,570.4 235.6,568.1 245.4,566.2"/>
<polyline points="245.4,566.2 239.5,577.9 233.7,591.6 227.8,607.2 223.9,626.7 218.6,647.0 214.6,660.0 210.8,675.2 200.6,687.9 193.0,710.8 187.9,734.5"/>
<polyline points="245.4,566.2 255.2,560.3 264.9,554.5 276.6,548.6 288.4,542.7 294.2,536.9 304.0,529.1 311.8,519.3 313.8,509.5"/>
<polyline points="441.8,532.7 447.0,529.2 450.5,523.9 455.8,520.4 466.4,522.2 475.2,527.5 480.4,538.0 487.5,550.3 492.7,557.3 498.0,562.6 491.0,566.1 494.5,571.4 503.3,576.7 513.8,577.6"/>
<polyline points="501.5,538.0 513.8,538.0 524.4,534.5 534.9,523.9 542.0,515.2 549.0,508.1 556.0,501.1 563.0,497.6 570.1,499.3 570.1,509.9 580.6,511.6 591.2,508.1 598.2,501.1"/>
<polyline points="501.5,538.0 499.8,541.5 506.8,546.8 513.8,550.3 515.6,557.3 515.6,567.9 513.8,576.7 515.6,589.0 517.3,594.3"/>
<polyline points="556.3,480.0 556.0,488.8 561.3,495.8 570.1,499.3"/>
<polyline points="556.3,480.0 562.0,470.0 566.0,458.0 582.0,458.0 596.0,468.0 607.0,476.0 617.0,473.0 625.2,472.8"/>
<polyline points="596.0,468.0 589.0,480.0 583.0,490.0 580.0,500.0 591.2,508.1"/>
<polyline points="607.0,476.0 612.0,489.0 620.0,496.0 634.5,479.8"/>
<polyline points="598.2,501.1 605.0,505.0 612.0,509.0 620.0,508.0 631.0,512.7"/>
<polyline points="450.9,380.0 452.5,373.8 449.4,367.5 447.8,361.3 454.1,355.0 457.2,348.8 460.3,342.5 468.1,336.3 475.9,333.1 475.2,326.9 476.7,319.1 475.9,308.9 486.9,308.1 499.4,310.5 508.8,311.3 518.1,312.0 522.8,312.8 533.8,312.8 540.0,312.8 548.0,314.0 561.9,315.9 572.8,320.6 580.6,323.8 585.3,330.0 593.1,331.6"/>
<polyline points="440.0,308.1 458.0,308.5 475.9,308.9"/>
<polyline points="513.2,288.6 515.0,289.4 518.1,298.8 521.3,309.7 522.8,312.8"/>
<polyline points="522.8,312.8 527.5,319.1 533.8,328.4 540.0,338.5 533.8,345.6 529.1,353.4 524.4,361.3 521.3,369.1 518.1,376.9 515.1,378.0"/>
<polyline points="586.5,278.8 583.8,295.6 582.2,305.0 583.8,319.1 585.3,330.0"/>
<polyline points="580.0,322.8 592.5,329.1 603.4,327.5 611.3,325.9 615.9,332.2 620.6,340.0 625.3,347.8 628.4,355.6"/>
<polyline points="635.3,253.2 633.0,265.0 631.6,280.0 631.6,290.0 630.0,299.4 631.6,305.6 634.7,313.4 637.8,321.3 645.6,325.9 656.6,327.5 658.1,333.8 656.6,343.1 653.4,349.4 647.2,352.5 645.6,358.8 644.1,368.1 639.4,374.4 633.1,380.6"/>
<polyline points="647.2,352.5 636.3,354.1 626.9,357.2 620.6,363.4 614.4,369.7 606.6,375.2 595.6,379.1 584.7,382.2"/>
<polyline points="645.6,358.8 653.4,361.9 661.3,366.6 664.4,374.4 670.6,377.5 680.0,372.8 684.7,366.6 689.4,358.8 697.2,349.4 703.4,341.6"/>
<polyline points="633.1,380.6 625.5,385.0 628.3,391.9 631.0,397.3 637.9,400.1 644.7,404.2 647.4,408.3 658.4,409.7 663.8,408.3 666.6,401.4 669.3,397.3 677.5,397.3 685.7,398.7 693.9,397.3 699.4,390.5 702.1,383.7 709.0,380.9 717.2,378.2 724.0,375.5"/>
<polyline points="598.0,394.6 603.7,394.6 613.2,393.2 620.1,396.0 622.8,400.1 624.2,405.5 624.2,411.0 621.4,416.5 617.3,420.6 610.5,422.0 605.0,425.1"/>
<polyline points="666.6,401.4 666.6,411.0 663.8,417.9 660.0,425.0 655.0,432.0"/>
<polyline points="525.0,408.1 530.0,399.3 547.6,397.0 560.5,387.6 568.7,382.9 579.2,380.5 584.7,382.2"/>
<polyline points="526.6,415.9 530.0,421.6 537.0,425.1 547.6,423.9 561.6,426.3"/>
<polyline points="365.3,500.0 366.9,506.3 357.5,509.4 352.8,514.1 349.7,521.9 345.0,529.7 345.0,540.6 348.1,546.9 348.1,554.7 346.6,562.5 340.3,570.3 338.8,575.0 332.5,579.7 321.6,587.7 313.8,599.4 315.7,611.1 315.7,626.7 313.8,650.0 312.4,672.7 307.3,700.6 304.7,724.8"/>
<polyline points="351.3,510.9 359.1,514.1 370.0,517.2 379.4,521.9 385.6,526.6 391.9,518.8 398.1,512.5 404.4,507.8 410.6,504.7 416.9,506.3 423.1,506.3 432.5,507.8 441.9,504.7 445.0,500.0 440.6,500.0"/>
<polyline points="348.1,546.9 357.5,550.0 360.6,553.1 366.9,546.9 373.1,548.4 379.4,551.6 385.6,553.1 395.0,553.1 401.3,551.6 407.5,545.3 413.8,539.1 420.0,535.9 429.4,535.9 437.2,531.3 441.8,532.7"/>
<polyline points="420.0,535.9 422.0,545.0 420.0,551.6 423.1,556.3 416.9,562.5 413.8,568.8 410.6,575.0 410.6,584.4 407.5,589.1 404.4,593.8 407.5,598.4 413.8,600.0 420.0,596.9 429.4,592.2 438.8,592.2 445.0,593.8 452.8,595.3 460.6,596.9 468.4,600.0 476.3,606.3 487.2,612.0"/>
<polyline points="445.0,500.0 447.0,510.0 444.0,518.0 441.8,532.7"/>
</g>
<polygon points="62.8,459.1 73.6,447.0 84.3,443.5 78.4,433.4 91.1,425.9 95.0,416.2 97.0,404.5 98.9,396.6 101.9,388.8 105.8,378.1 109.7,369.3 113.6,367.3 117.5,370.3 125.3,374.8 135.1,377.5 146.8,378.1 156.6,380.0 164.4,384.9 170.2,390.8 172.2,396.6 177.1,392.3 183.9,389.8 191.7,389.8 200.5,386.5 211.3,381.4 217.1,377.1 218.1,369.3 221.0,363.4 226.9,358.6 220.0,354.6 226.9,352.7 240.5,349.8 250.0,347.4 261.7,345.5 274.4,341.6 285.2,335.7 296.9,330.8 306.6,324.0 310.5,314.2 314.5,302.5 318.4,290.8 317.4,281.0 322.3,277.1 334.0,274.2 347.7,272.2 361.3,271.3 367.2,267.3 371.1,259.5 375.0,254.6 386.7,257.6 398.4,261.5 410.2,267.3 419.9,265.4 433.6,264.4 440.0,264.2 449.8,263.0 459.5,266.6 469.3,272.7 481.5,273.9 493.7,277.6 503.5,282.5 513.2,288.6 523.0,282.5 532.8,278.8 545.0,275.2 554.7,270.3 564.5,266.6 576.7,271.5 586.5,278.8 592.6,273.9 593.8,261.7 598.7,254.4 610.9,252.0 620.0,250.2 624.7,249.6 629.4,252.5 637.6,254.8 643.4,251.3 647.5,245.5 647.0,238.4 641.1,233.8 641.5,230.5 645.9,228.0 652.7,223.1 659.5,219.2 664.4,210.4 669.3,204.0 675.2,200.6 681.0,199.6 688.8,198.2 694.7,202.6 700.5,205.5 706.4,208.4 711.3,211.4 712.8,216.3 709.3,223.1 706.4,228.0 708.4,230.9 716.2,229.9 722.0,231.5 724.5,237.0 725.2,248.4 723.2,260.2 719.4,274.8 717.9,286.5 722.3,298.3 729.6,304.1 741.3,302.6 756.0,296.8 770.6,290.9 782.4,286.5 789.7,285.1 794.1,276.3 799.9,270.4 811.7,264.6 823.4,260.2 835.1,258.7 846.8,260.2 855.6,261.6 848.3,269.0 849.7,271.9 861.5,270.4 873.2,266.0 882.0,263.1 893.7,261.6 908.3,262.5 918.6,266.0 921.5,271.9 911.3,271.9 904.0,273.3 896.6,276.3 898.1,283.6 899.6,288.0 887.8,290.9 873.2,295.3 861.5,293.9 846.8,290.9 829.2,292.4 811.7,293.9 794.1,296.8 776.5,299.7 758.9,302.6 747.2,310.0 738.4,318.8 729.6,318.8 720.8,327.5 712.0,336.3 703.2,342.2 710.6,348.1 717.9,356.8 720.8,365.6 723.8,374.4 726.6,379.4 729.7,391.9 725.0,398.1 718.8,404.4 709.4,410.6 706.3,416.9 701.6,423.1 693.8,429.4 692.2,435.6 696.9,438.8 700.0,443.4 699.0,449.4 695.5,458.8 688.4,462.3 679.1,464.6 672.0,466.4 660.3,467.5 653.3,469.3 645.1,471.1 635.0,471.5 625.2,472.8 628.7,477.5 634.5,479.8 639.2,482.2 641.6,486.9 642.7,491.6 647.4,496.3 650.4,500.9 648.6,504.5 642.7,508.0 638.0,510.3 631.0,512.7 625.5,515.2 617.7,516.2 609.8,516.2 602.0,520.1 600.1,525.9 600.1,533.8 596.2,541.6 590.3,549.4 586.4,557.2 587.4,567.0 588.4,576.7 589.3,585.5 582.5,590.4 574.7,594.3 566.9,600.2 559.1,604.1 553.6,599.1 545.8,594.2 539.9,596.1 530.2,595.2 522.3,593.2 516.5,596.1 510.6,601.0 500.9,604.9 489.1,609.8 487.2,614.7 495.0,616.6 498.9,620.5 491.1,623.5 481.3,625.4 471.6,628.4 461.8,627.4 454.0,623.5 448.1,622.5 440.3,626.4 434.5,632.3 430.5,638.1 422.7,642.0 414.9,645.9 412.0,653.8 410.0,665.5 412.7,670.2 412.7,680.3 411.4,693.0 413.9,701.9 406.3,707.0 388.5,712.1 370.8,717.1 353.0,722.2 335.2,727.3 317.4,726.0 304.7,724.8 292.0,728.6 281.9,732.4 280.6,736.2 271.7,733.6 256.5,729.8 236.2,731.1 210.8,733.6 182.9,736.2 172.7,733.6 160.0,728.6 148.2,726.7 127.5,720.5 104.7,713.3 86.1,708.1 106.8,686.4 123.3,671.9 138.9,655.3 142.0,642.9 140.9,630.5 137.8,621.2 129.5,618.0 106.8,614.9 85.0,611.8 83.0,597.3 84.0,580.8 85.0,564.2 80.9,547.7 76.7,535.2 71.6,524.9 68.5,515.6 71.6,506.3 79.8,499.0 86.1,492.8 75.7,489.7 71.6,484.5 66.4,474.2 61.2,457.6" fill="none" stroke="#5f5f5f" stroke-width="1.7" stroke-linejoin="round"/>
<g font-size="6.8" fill="#666">
<text x="363.3" y="300.5" textLength="39" lengthAdjust="spacingAndGlyphs">JAWZJAN</text>
<text x="540.5" y="296.5" textLength="35" lengthAdjust="spacingAndGlyphs">KUNDUZ</text>
<text x="600" y="309" textLength="26" lengthAdjust="spacingAndGlyphs">TAKHAR</text>
<text x="665.2" y="315" textLength="61.5" lengthAdjust="spacingAndGlyphs">BADAKHSHAN</text>
<text x="471.7" y="350.5" textLength="50" lengthAdjust="spacingAndGlyphs">SAMANGAN</text>
<text x="546.2" y="357.5" textLength="40" lengthAdjust="spacingAndGlyphs">BAGHLAN</text>
<text x="308.6" y="359" textLength="32" lengthAdjust="spacingAndGlyphs">FARYAB</text>
<text x="375" y="377" textLength="46" lengthAdjust="spacingAndGlyphs">SAR-E-PUL</text>
<text x="237.9" y="398" textLength="37.5" lengthAdjust="spacingAndGlyphs">BADGHIS</text>
<text x="322.3" y="449.5" textLength="27" lengthAdjust="spacingAndGlyphs">GHOR</text>
<text x="447.2" y="419.5" textLength="36" lengthAdjust="spacingAndGlyphs">BAMYAN</text>
<text x="485.8" y="448.5" textLength="69" lengthAdjust="spacingAndGlyphs">MAIDAN WARDAK</text>
<text x="383.9" y="482.8" textLength="42" lengthAdjust="spacingAndGlyphs">DAYKUNDI</text>
<text x="385" y="534.8" textLength="33" lengthAdjust="spacingAndGlyphs">URUZGAN</text>
<text x="483.5" y="508.6" textLength="33" lengthAdjust="spacingAndGlyphs">GHAZNI</text>
<text x="532.7" y="551.2" textLength="35" lengthAdjust="spacingAndGlyphs">PAKTIKA</text>
<text x="447.2" y="572.3" textLength="25" lengthAdjust="spacingAndGlyphs">ZABUL</text>
<text x="361.6" y="618" textLength="49" lengthAdjust="spacingAndGlyphs">KANDAHAR</text>
<text x="236.6" y="644" textLength="41" lengthAdjust="spacingAndGlyphs">HILMAND</text>
<text x="150.5" y="666.4" textLength="33.5" lengthAdjust="spacingAndGlyphs">NIMROZ</text>
<text x="122.3" y="553.4" textLength="30" lengthAdjust="spacingAndGlyphs">FARAH</text>
<text x="548.8" y="405.6" textLength="21" lengthAdjust="spacingAndGlyphs">PARWAN</text>
<text x="605" y="389.8" textLength="25" lengthAdjust="spacingAndGlyphs">PANJSHER</text>
<text x="606.2" y="410.9" textLength="17.6" lengthAdjust="spacingAndGlyphs">KAPISA</text>
<text x="642.2" y="389.4" textLength="43" lengthAdjust="spacingAndGlyphs">NURISTAN</text>
<text x="562" y="462.7" textLength="32" lengthAdjust="spacingAndGlyphs">LOGAR</text>
<text x="564.9" y="496.5" textLength="15" lengthAdjust="spacingAndGlyphs">PAKTYA</text>
</g>
<g>
<circle cx="164.4" cy="441.5" r="15.6" fill="#00a6ef" fill-opacity="0.9" stroke="#1b3142" stroke-width="1.6"/>
<circle cx="164.4" cy="441.5" r="14.2" fill="none" stroke="#bfe9fb" stroke-width="0.7" stroke-dasharray="1.6 1.6" stroke-opacity="0.8"/>
<circle cx="561.6" cy="298.4" r="14.9" fill="#00a6ef" fill-opacity="0.9" stroke="#1b3142" stroke-width="1.6"/>
<circle cx="561.6" cy="298.4" r="13.5" fill="none" stroke="#bfe9fb" stroke-width="0.7" stroke-dasharray="1.6 1.6" stroke-opacity="0.8"/>
<circle cx="163.4" cy="434.9" r="13.2" fill="#00a6ef" fill-opacity="0.9" stroke="#1b3142" stroke-width="1.6"/>
<circle cx="163.4" cy="434.9" r="11.8" fill="none" stroke="#bfe9fb" stroke-width="0.7" stroke-dasharray="1.6 1.6" stroke-opacity="0.8"/>
<circle cx="547.6" cy="326.4" r="12.8" fill="#00a6ef" fill-opacity="0.9" stroke="#1b3142" stroke-width="1.6"/>
<circle cx="547.6" cy="326.4" r="11.4" fill="none" stroke="#bfe9fb" stroke-width="0.7" stroke-dasharray="1.6 1.6" stroke-opacity="0.8"/>
<circle cx="646.9" cy="459.5" r="12.4" fill="#00a6ef" fill-opacity="0.9" stroke="#1b3142" stroke-width="1.6"/>
<circle cx="646.9" cy="459.5" r="11.0" fill="none" stroke="#bfe9fb" stroke-width="0.7" stroke-dasharray="1.6 1.6" stroke-opacity="0.8"/>
<circle cx="610.9" cy="463.5" r="12.4" fill="#00a6ef" fill-opacity="0.9" stroke="#1b3142" stroke-width="1.6"/>
<circle cx="610.9" cy="463.5" r="11.0" fill="none" stroke="#bfe9fb" stroke-width="0.7" stroke-dasharray="1.6 1.6" stroke-opacity="0.8"/>
<circle cx="386.6" cy="541.3" r="12.4" fill="#00a6ef" fill-opacity="0.9" stroke="#1b3142" stroke-width="1.6"/>
<circle cx="386.6" cy="541.3" r="11.0" fill="none" stroke="#bfe9fb" stroke-width="0.7" stroke-dasharray="1.6 1.6" stroke-opacity="0.8"/>
<circle cx="302.6" cy="614.9" r="12.4" fill="#00a6ef" fill-opacity="0.9" stroke="#1b3142" stroke-width="1.6"/>
<circle cx="302.6" cy="614.9" r="11.0" fill="none" stroke="#bfe9fb" stroke-width="0.7" stroke-dasharray="1.6 1.6" stroke-opacity="0.8"/>
<circle cx="220" cy="415.8" r="11.9" fill="#00a6ef" fill-opacity="0.9" stroke="#1b3142" stroke-width="1.6"/>
<circle cx="220" cy="415.8" r="10.5" fill="none" stroke="#bfe9fb" stroke-width="0.7" stroke-dasharray="1.6 1.6" stroke-opacity="0.8"/>
<circle cx="246.5" cy="415.2" r="11.9" fill="#00a6ef" fill-opacity="0.9" stroke="#1b3142" stroke-width="1.6"/>
<circle cx="246.5" cy="415.2" r="10.5" fill="none" stroke="#bfe9fb" stroke-width="0.7" stroke-dasharray="1.6 1.6" stroke-opacity="0.8"/>
<circle cx="636.5" cy="426" r="10.9" fill="#00a6ef" fill-opacity="0.9" stroke="#1b3142" stroke-width="1.6"/>
<circle cx="636.5" cy="426" r="9.5" fill="none" stroke="#bfe9fb" stroke-width="0.7" stroke-dasharray="1.6 1.6" stroke-opacity="0.8"/>
<circle cx="352" cy="420.6" r="10.4" fill="#00a6ef" fill-opacity="0.9" stroke="#1b3142" stroke-width="1.6"/>
<circle cx="352" cy="420.6" r="9.0" fill="none" stroke="#bfe9fb" stroke-width="0.7" stroke-dasharray="1.6 1.6" stroke-opacity="0.8"/>
<circle cx="259.6" cy="606.3" r="10.2" fill="#00a6ef" fill-opacity="0.9" stroke="#1b3142" stroke-width="1.6"/>
<circle cx="259.6" cy="606.3" r="8.8" fill="none" stroke="#bfe9fb" stroke-width="0.7" stroke-dasharray="1.6 1.6" stroke-opacity="0.8"/>
<circle cx="341.6" cy="634.5" r="10.2" fill="#00a6ef" fill-opacity="0.9" stroke="#1b3142" stroke-width="1.6"/>
<circle cx="341.6" cy="634.5" r="8.8" fill="none" stroke="#bfe9fb" stroke-width="0.7" stroke-dasharray="1.6 1.6" stroke-opacity="0.8"/>
<circle cx="401.9" cy="639" r="10.2" fill="#00a6ef" fill-opacity="0.9" stroke="#1b3142" stroke-width="1.6"/>
<circle cx="401.9" cy="639" r="8.8" fill="none" stroke="#bfe9fb" stroke-width="0.7" stroke-dasharray="1.6 1.6" stroke-opacity="0.8"/>
<circle cx="550.9" cy="368.2" r="9.7" fill="#00a6ef" fill-opacity="0.9" stroke="#1b3142" stroke-width="1.6"/>
<circle cx="550.9" cy="368.2" r="8.3" fill="none" stroke="#bfe9fb" stroke-width="0.7" stroke-dasharray="1.6 1.6" stroke-opacity="0.8"/>
<circle cx="646" cy="440.5" r="9.2" fill="#00a6ef" fill-opacity="0.9" stroke="#1b3142" stroke-width="1.6"/>
<circle cx="646" cy="440.5" r="7.8" fill="none" stroke="#bfe9fb" stroke-width="0.7" stroke-dasharray="1.6 1.6" stroke-opacity="0.8"/>
<circle cx="664.4" cy="447.2" r="7.7" fill="#00a6ef" fill-opacity="0.9" stroke="#1b3142" stroke-width="1.6"/>
<circle cx="664.4" cy="447.2" r="6.3" fill="none" stroke="#bfe9fb" stroke-width="0.7" stroke-dasharray="1.6 1.6" stroke-opacity="0.8"/>
<circle cx="628" cy="317.4" r="7.4" fill="#00a6ef" fill-opacity="0.9" stroke="#1b3142" stroke-width="1.6"/>
<circle cx="628" cy="317.4" r="6.0" fill="none" stroke="#bfe9fb" stroke-width="0.7" stroke-dasharray="1.6 1.6" stroke-opacity="0.8"/>
<circle cx="193" cy="433.5" r="6.9" fill="#00a6ef" fill-opacity="0.9" stroke="#1b3142" stroke-width="1.6"/>
<circle cx="193" cy="433.5" r="5.5" fill="none" stroke="#bfe9fb" stroke-width="0.7" stroke-dasharray="1.6 1.6" stroke-opacity="0.8"/>
<circle cx="355.5" cy="602.7" r="6.9" fill="#00a6ef" fill-opacity="0.9" stroke="#1b3142" stroke-width="1.6"/>
<circle cx="355.5" cy="602.7" r="5.5" fill="none" stroke="#bfe9fb" stroke-width="0.7" stroke-dasharray="1.6 1.6" stroke-opacity="0.8"/>
<circle cx="190.5" cy="411.6" r="6.7" fill="#00a6ef" fill-opacity="0.9" stroke="#1b3142" stroke-width="1.6"/>
<circle cx="190.5" cy="411.6" r="5.3" fill="none" stroke="#bfe9fb" stroke-width="0.7" stroke-dasharray="1.6 1.6" stroke-opacity="0.8"/>
<circle cx="502.3" cy="322.8" r="6.7" fill="#00a6ef" fill-opacity="0.9" stroke="#1b3142" stroke-width="1.6"/>
<circle cx="502.3" cy="322.8" r="5.3" fill="none" stroke="#bfe9fb" stroke-width="0.7" stroke-dasharray="1.6 1.6" stroke-opacity="0.8"/>
<circle cx="607.2" cy="301.5" r="6.7" fill="#00a6ef" fill-opacity="0.9" stroke="#1b3142" stroke-width="1.6"/>
<circle cx="607.2" cy="301.5" r="5.3" fill="none" stroke="#bfe9fb" stroke-width="0.7" stroke-dasharray="1.6 1.6" stroke-opacity="0.8"/>
<circle cx="408.3" cy="497.2" r="6.7" fill="#00a6ef" fill-opacity="0.9" stroke="#1b3142" stroke-width="1.6"/>
<circle cx="408.3" cy="497.2" r="5.3" fill="none" stroke="#bfe9fb" stroke-width="0.7" stroke-dasharray="1.6 1.6" stroke-opacity="0.8"/>
<circle cx="568.8" cy="376.4" r="6.6" fill="#00a6ef" fill-opacity="0.9" stroke="#1b3142" stroke-width="1.6"/>
<circle cx="568.8" cy="376.4" r="5.2" fill="none" stroke="#bfe9fb" stroke-width="0.7" stroke-dasharray="1.6 1.6" stroke-opacity="0.8"/>
<circle cx="378.2" cy="628.3" r="6.6" fill="#00a6ef" fill-opacity="0.9" stroke="#1b3142" stroke-width="1.6"/>
<circle cx="378.2" cy="628.3" r="5.2" fill="none" stroke="#bfe9fb" stroke-width="0.7" stroke-dasharray="1.6 1.6" stroke-opacity="0.8"/>
<circle cx="102.9" cy="453.3" r="6.4" fill="#00a6ef" fill-opacity="0.9" stroke="#1b3142" stroke-width="1.6"/>
<circle cx="102.9" cy="453.3" r="5.0" fill="none" stroke="#bfe9fb" stroke-width="0.7" stroke-dasharray="1.6 1.6" stroke-opacity="0.8"/>
<circle cx="167.2" cy="404.4" r="6.4" fill="#00a6ef" fill-opacity="0.9" stroke="#1b3142" stroke-width="1.6"/>
<circle cx="167.2" cy="404.4" r="5.0" fill="none" stroke="#bfe9fb" stroke-width="0.7" stroke-dasharray="1.6 1.6" stroke-opacity="0.8"/>
<circle cx="155.1" cy="462.2" r="6.4" fill="#00a6ef" fill-opacity="0.9" stroke="#1b3142" stroke-width="1.6"/>
<circle cx="155.1" cy="462.2" r="5.0" fill="none" stroke="#bfe9fb" stroke-width="0.7" stroke-dasharray="1.6 1.6" stroke-opacity="0.8"/>
<circle cx="581.6" cy="397" r="6.4" fill="#00a6ef" fill-opacity="0.9" stroke="#1b3142" stroke-width="1.6"/>
<circle cx="581.6" cy="397" r="5.0" fill="none" stroke="#bfe9fb" stroke-width="0.7" stroke-dasharray="1.6 1.6" stroke-opacity="0.8"/>
<circle cx="598.8" cy="481" r="6.4" fill="#00a6ef" fill-opacity="0.9" stroke="#1b3142" stroke-width="1.6"/>
<circle cx="598.8" cy="481" r="5.0" fill="none" stroke="#bfe9fb" stroke-width="0.7" stroke-dasharray="1.6 1.6" stroke-opacity="0.8"/>
<circle cx="166.3" cy="567.1" r="6.4" fill="#00a6ef" fill-opacity="0.9" stroke="#1b3142" stroke-width="1.6"/>
<circle cx="166.3" cy="567.1" r="5.0" fill="none" stroke="#bfe9fb" stroke-width="0.7" stroke-dasharray="1.6 1.6" stroke-opacity="0.8"/>
<circle cx="689.8" cy="451.2" r="6.2" fill="#00a6ef" fill-opacity="0.9" stroke="#1b3142" stroke-width="1.6"/>
<circle cx="689.8" cy="451.2" r="4.8" fill="none" stroke="#bfe9fb" stroke-width="0.7" stroke-dasharray="1.6 1.6" stroke-opacity="0.8"/>
<circle cx="561.6" cy="278.3" r="6.1" fill="#00a6ef" fill-opacity="0.9" stroke="#1b3142" stroke-width="1.6"/>
<circle cx="561.6" cy="278.3" r="4.7" fill="none" stroke="#bfe9fb" stroke-width="0.7" stroke-dasharray="1.6 1.6" stroke-opacity="0.8"/>
<circle cx="670.6" cy="461" r="5.9" fill="#00a6ef" fill-opacity="0.9" stroke="#1b3142" stroke-width="1.6"/>
<circle cx="670.6" cy="461" r="4.5" fill="none" stroke="#bfe9fb" stroke-width="0.7" stroke-dasharray="1.6 1.6" stroke-opacity="0.8"/>
<circle cx="593.5" cy="496.3" r="5.8" fill="#00a6ef" fill-opacity="0.9" stroke="#1b3142" stroke-width="1.6"/>
<circle cx="593.5" cy="496.3" r="4.4" fill="none" stroke="#bfe9fb" stroke-width="0.7" stroke-dasharray="1.6 1.6" stroke-opacity="0.8"/>
<circle cx="627.5" cy="512.7" r="5.8" fill="#00a6ef" fill-opacity="0.9" stroke="#1b3142" stroke-width="1.6"/>
<circle cx="627.5" cy="512.7" r="4.4" fill="none" stroke="#bfe9fb" stroke-width="0.7" stroke-dasharray="1.6 1.6" stroke-opacity="0.8"/>
<circle cx="663.9" cy="431.4" r="5.6" fill="#00a6ef" fill-opacity="0.9" stroke="#1b3142" stroke-width="1.6"/>
<circle cx="663.9" cy="431.4" r="4.2" fill="none" stroke="#bfe9fb" stroke-width="0.7" stroke-dasharray="1.6 1.6" stroke-opacity="0.8"/>
<circle cx="598" cy="389.9" r="5.3" fill="#00a6ef" fill-opacity="0.9" stroke="#1b3142" stroke-width="1.6"/>
<circle cx="598" cy="389.9" r="3.9" fill="none" stroke="#bfe9fb" stroke-width="0.7" stroke-dasharray="1.6 1.6" stroke-opacity="0.8"/>
<circle cx="590.9" cy="410.4" r="5.3" fill="#00a6ef" fill-opacity="0.9" stroke="#1b3142" stroke-width="1.6"/>
<circle cx="590.9" cy="410.4" r="3.9" fill="none" stroke="#bfe9fb" stroke-width="0.7" stroke-dasharray="1.6 1.6" stroke-opacity="0.8"/>
<circle cx="617" cy="503.3" r="5.3" fill="#00a6ef" fill-opacity="0.9" stroke="#1b3142" stroke-width="1.6"/>
<circle cx="617" cy="503.3" r="3.9" fill="none" stroke="#bfe9fb" stroke-width="0.7" stroke-dasharray="1.6 1.6" stroke-opacity="0.8"/>
<circle cx="584.5" cy="486.9" r="4.9" fill="#00a6ef" fill-opacity="0.9" stroke="#1b3142" stroke-width="1.6"/>
<circle cx="578" cy="406.3" r="4.7" fill="#00a6ef" fill-opacity="0.9" stroke="#1b3142" stroke-width="1.6"/>
<circle cx="685.9" cy="427.8" r="4.6" fill="#00a6ef" fill-opacity="0.9" stroke="#1b3142" stroke-width="1.6"/>
<circle cx="590.9" cy="309.3" r="4.4" fill="#00a6ef" fill-opacity="0.9" stroke="#1b3142" stroke-width="1.6"/>
<circle cx="697.7" cy="419.7" r="4.4" fill="#00a6ef" fill-opacity="0.9" stroke="#1b3142" stroke-width="1.6"/>
<circle cx="587" cy="401" r="4.4" fill="#00a6ef" fill-opacity="0.9" stroke="#1b3142" stroke-width="1.6"/>
<circle cx="142.7" cy="441.4" r="4.3" fill="#00a6ef" fill-opacity="0.9" stroke="#1b3142" stroke-width="1.6"/>
<circle cx="198" cy="452.7" r="4.3" fill="#00a6ef" fill-opacity="0.9" stroke="#1b3142" stroke-width="1.6"/>
<circle cx="240.9" cy="377.1" r="4.3" fill="#00a6ef" fill-opacity="0.9" stroke="#1b3142" stroke-width="1.6"/>
<circle cx="289.1" cy="366.6" r="4.3" fill="#00a6ef" fill-opacity="0.9" stroke="#1b3142" stroke-width="1.6"/>
<circle cx="319.7" cy="349.2" r="4.3" fill="#00a6ef" fill-opacity="0.9" stroke="#1b3142" stroke-width="1.6"/>
<circle cx="339.4" cy="396.8" r="4.3" fill="#00a6ef" fill-opacity="0.9" stroke="#1b3142" stroke-width="1.6"/>
<circle cx="349.3" cy="295.2" r="4.3" fill="#00a6ef" fill-opacity="0.9" stroke="#1b3142" stroke-width="1.6"/>
<circle cx="368.2" cy="289.4" r="4.3" fill="#00a6ef" fill-opacity="0.9" stroke="#1b3142" stroke-width="1.6"/>
<circle cx="377" cy="310.7" r="4.3" fill="#00a6ef" fill-opacity="0.9" stroke="#1b3142" stroke-width="1.6"/>
<circle cx="411.7" cy="304.1" r="4.3" fill="#00a6ef" fill-opacity="0.9" stroke="#1b3142" stroke-width="1.6"/>
<circle cx="394.8" cy="328.3" r="4.3" fill="#00a6ef" fill-opacity="0.9" stroke="#1b3142" stroke-width="1.6"/>
<circle cx="353.8" cy="333.1" r="4.3" fill="#00a6ef" fill-opacity="0.9" stroke="#1b3142" stroke-width="1.6"/>
<circle cx="418.4" cy="341.9" r="4.3" fill="#00a6ef" fill-opacity="0.9" stroke="#1b3142" stroke-width="1.6"/>
<circle cx="444.3" cy="297.5" r="4.3" fill="#00a6ef" fill-opacity="0.9" stroke="#1b3142" stroke-width="1.6"/>
<circle cx="461.8" cy="295.3" r="4.3" fill="#00a6ef" fill-opacity="0.9" stroke="#1b3142" stroke-width="1.6"/>
<circle cx="451.4" cy="307.9" r="4.3" fill="#00a6ef" fill-opacity="0.9" stroke="#1b3142" stroke-width="1.6"/>
<circle cx="458.3" cy="303.6" r="4.3" fill="#00a6ef" fill-opacity="0.9" stroke="#1b3142" stroke-width="1.6"/>
<circle cx="471.6" cy="307.8" r="4.3" fill="#00a6ef" fill-opacity="0.9" stroke="#1b3142" stroke-width="1.6"/>
<circle cx="443.2" cy="327.7" r="4.3" fill="#00a6ef" fill-opacity="0.9" stroke="#1b3142" stroke-width="1.6"/>
<circle cx="471.9" cy="275.3" r="4.3" fill="#00a6ef" fill-opacity="0.9" stroke="#1b3142" stroke-width="1.6"/>
<circle cx="484" cy="278.7" r="4.3" fill="#00a6ef" fill-opacity="0.9" stroke="#1b3142" stroke-width="1.6"/>
<circle cx="495.8" cy="296.9" r="4.3" fill="#00a6ef" fill-opacity="0.9" stroke="#1b3142" stroke-width="1.6"/>
<circle cx="509.8" cy="333.2" r="4.3" fill="#00a6ef" fill-opacity="0.9" stroke="#1b3142" stroke-width="1.6"/>
<circle cx="577.9" cy="309.3" r="4.3" fill="#00a6ef" fill-opacity="0.9" stroke="#1b3142" stroke-width="1.6"/>
<circle cx="593.8" cy="295.9" r="4.3" fill="#00a6ef" fill-opacity="0.9" stroke="#1b3142" stroke-width="1.6"/>
<circle cx="571.8" cy="345.2" r="4.3" fill="#00a6ef" fill-opacity="0.9" stroke="#1b3142" stroke-width="1.6"/>
<circle cx="652" cy="268.5" r="4.3" fill="#00a6ef" fill-opacity="0.9" stroke="#1b3142" stroke-width="1.6"/>
<circle cx="666.6" cy="273.4" r="4.3" fill="#00a6ef" fill-opacity="0.9" stroke="#1b3142" stroke-width="1.6"/>
<circle cx="655.7" cy="282.1" r="4.3" fill="#00a6ef" fill-opacity="0.9" stroke="#1b3142" stroke-width="1.6"/>
<circle cx="683.8" cy="284.7" r="4.3" fill="#00a6ef" fill-opacity="0.9" stroke="#1b3142" stroke-width="1.6"/>
<circle cx="677.1" cy="445.4" r="4.2" fill="#00a6ef" fill-opacity="0.9" stroke="#1b3142" stroke-width="1.6"/>
<circle cx="600.9" cy="381.7" r="4.1" fill="#00a6ef" fill-opacity="0.9" stroke="#1b3142" stroke-width="1.6"/>
<circle cx="596.2" cy="404.6" r="4.1" fill="#00a6ef" fill-opacity="0.9" stroke="#1b3142" stroke-width="1.6"/>
<circle cx="599.1" cy="419.2" r="4.1" fill="#00a6ef" fill-opacity="0.9" stroke="#1b3142" stroke-width="1.6"/>
<circle cx="572.8" cy="424.5" r="4.1" fill="#00a6ef" fill-opacity="0.9" stroke="#1b3142" stroke-width="1.6"/>
<circle cx="574.5" cy="440.9" r="4.1" fill="#00a6ef" fill-opacity="0.9" stroke="#1b3142" stroke-width="1.6"/>
<circle cx="590.9" cy="435" r="4.1" fill="#00a6ef" fill-opacity="0.9" stroke="#1b3142" stroke-width="1.6"/>
<circle cx="612.6" cy="432.7" r="4.1" fill="#00a6ef" fill-opacity="0.9" stroke="#1b3142" stroke-width="1.6"/>
<circle cx="581.6" cy="450.9" r="4.1" fill="#00a6ef" fill-opacity="0.9" stroke="#1b3142" stroke-width="1.6"/>
<circle cx="537.2" cy="491.2" r="4.1" fill="#00a6ef" fill-opacity="0.9" stroke="#1b3142" stroke-width="1.6"/>
<circle cx="554.4" cy="510.7" r="4.1" fill="#00a6ef" fill-opacity="0.9" stroke="#1b3142" stroke-width="1.6"/>
<circle cx="582.1" cy="524" r="4.1" fill="#00a6ef" fill-opacity="0.9" stroke="#1b3142" stroke-width="1.6"/>
<circle cx="491.6" cy="416.6" r="4.1" fill="#00a6ef" fill-opacity="0.9" stroke="#1b3142" stroke-width="1.6"/>
<circle cx="395.9" cy="477.6" r="4.1" fill="#00a6ef" fill-opacity="0.9" stroke="#1b3142" stroke-width="1.6"/>
<circle cx="407.4" cy="526.4" r="4.1" fill="#00a6ef" fill-opacity="0.9" stroke="#1b3142" stroke-width="1.6"/>
<circle cx="156.2" cy="552.7" r="4.1" fill="#00a6ef" fill-opacity="0.9" stroke="#1b3142" stroke-width="1.6"/>
<circle cx="143.3" cy="621.1" r="4.1" fill="#00a6ef" fill-opacity="0.9" stroke="#1b3142" stroke-width="1.6"/>
<circle cx="179.2" cy="622.1" r="4.1" fill="#00a6ef" fill-opacity="0.9" stroke="#1b3142" stroke-width="1.6"/>
<circle cx="157.7" cy="689.6" r="4.1" fill="#00a6ef" fill-opacity="0.9" stroke="#1b3142" stroke-width="1.6"/>
<circle cx="282.1" cy="681" r="4.1" fill="#00a6ef" fill-opacity="0.9" stroke="#1b3142" stroke-width="1.6"/>
<circle cx="341.9" cy="692.4" r="4.1" fill="#00a6ef" fill-opacity="0.9" stroke="#1b3142" stroke-width="1.6"/>
<circle cx="284.4" cy="621.1" r="4.1" fill="#00a6ef" fill-opacity="0.9" stroke="#1b3142" stroke-width="1.6"/>
<circle cx="306.9" cy="590" r="4.1" fill="#00a6ef" fill-opacity="0.9" stroke="#1b3142" stroke-width="1.6"/>
<circle cx="330.4" cy="605.8" r="4.1" fill="#00a6ef" fill-opacity="0.9" stroke="#1b3142" stroke-width="1.6"/>
<circle cx="344.3" cy="579.5" r="4.1" fill="#00a6ef" fill-opacity="0.9" stroke="#1b3142" stroke-width="1.6"/>
<circle cx="362" cy="581.4" r="4.1" fill="#00a6ef" fill-opacity="0.9" stroke="#1b3142" stroke-width="1.6"/>
<circle cx="370.6" cy="595.8" r="4.1" fill="#00a6ef" fill-opacity="0.9" stroke="#1b3142" stroke-width="1.6"/>
<circle cx="422.4" cy="586.6" r="4.1" fill="#00a6ef" fill-opacity="0.9" stroke="#1b3142" stroke-width="1.6"/>
<circle cx="451" cy="568.7" r="4.1" fill="#00a6ef" fill-opacity="0.9" stroke="#1b3142" stroke-width="1.6"/>
<circle cx="712.5" cy="400.5" r="4.0" fill="#00a6ef" fill-opacity="0.9" stroke="#1b3142" stroke-width="1.6"/>
<circle cx="658.6" cy="400.5" r="4.0" fill="#00a6ef" fill-opacity="0.9" stroke="#1b3142" stroke-width="1.6"/>
<circle cx="684.4" cy="406.7" r="4.0" fill="#00a6ef" fill-opacity="0.9" stroke="#1b3142" stroke-width="1.6"/>
<circle cx="698.4" cy="411.4" r="4.0" fill="#00a6ef" fill-opacity="0.9" stroke="#1b3142" stroke-width="1.6"/>
<circle cx="690.3" cy="416.6" r="4.0" fill="#00a6ef" fill-opacity="0.9" stroke="#1b3142" stroke-width="1.6"/>
<circle cx="681.3" cy="419.7" r="4.0" fill="#00a6ef" fill-opacity="0.9" stroke="#1b3142" stroke-width="1.6"/>
<circle cx="673.4" cy="422.3" r="4.0" fill="#00a6ef" fill-opacity="0.9" stroke="#1b3142" stroke-width="1.6"/>
<circle cx="666.4" cy="430.2" r="4.0" fill="#00a6ef" fill-opacity="0.9" stroke="#1b3142" stroke-width="1.6"/>
<circle cx="721.8" cy="388.7" r="3.9" fill="#00a6ef" fill-opacity="0.9" stroke="#1b3142" stroke-width="1.6"/>
<circle cx="556.4" cy="445" r="3.9" fill="#00a6ef" fill-opacity="0.9" stroke="#1b3142" stroke-width="1.6"/>
<circle cx="540" cy="457.3" r="3.9" fill="#00a6ef" fill-opacity="0.9" stroke="#1b3142" stroke-width="1.6"/>
<circle cx="549.9" cy="466.1" r="3.9" fill="#00a6ef" fill-opacity="0.9" stroke="#1b3142" stroke-width="1.6"/>
<circle cx="573.4" cy="466.1" r="3.9" fill="#00a6ef" fill-opacity="0.9" stroke="#1b3142" stroke-width="1.6"/>
<circle cx="678" cy="451.2" r="3.9" fill="#00a6ef" fill-opacity="0.9" stroke="#1b3142" stroke-width="1.6"/>
<circle cx="630.4" cy="502.1" r="3.9" fill="#00a6ef" fill-opacity="0.9" stroke="#1b3142" stroke-width="1.6"/>
<circle cx="673.6" cy="422.6" r="3.8" fill="#00a6ef" fill-opacity="0.9" stroke="#1b3142" stroke-width="1.6"/>
<circle cx="681.5" cy="419.9" r="3.8" fill="#00a6ef" fill-opacity="0.9" stroke="#1b3142" stroke-width="1.6"/>
<circle cx="687" cy="459.5" r="3.7" fill="#00a6ef" fill-opacity="0.9" stroke="#1b3142" stroke-width="1.6"/>
<circle cx="670.1" cy="434" r="3.6" fill="#00a6ef" fill-opacity="0.9" stroke="#1b3142" stroke-width="1.6"/>
<circle cx="614" cy="511.5" r="3.6" fill="#00a6ef" fill-opacity="0.9" stroke="#1b3142" stroke-width="1.6"/>
<circle cx="581" cy="414" r="3.5" fill="#00a6ef" fill-opacity="0.9" stroke="#1b3142" stroke-width="1.6"/>
<circle cx="566.3" cy="431.5" r="3.5" fill="#00a6ef" fill-opacity="0.9" stroke="#1b3142" stroke-width="1.6"/>
<circle cx="559.9" cy="437.4" r="3.5" fill="#00a6ef" fill-opacity="0.9" stroke="#1b3142" stroke-width="1.6"/>
</g>
</g>

<!-- ===== TOP 10 ===== -->
<g id="top10">
  <text x="782" y="391" font-size="13.5" font-weight="bold" fill="#7a7a7a">TOP 10</text>
  <text x="782" y="406.6" font-size="13.5" font-weight="bold" fill="#7a7a7a" textLength="79.7" lengthAdjust="spacingAndGlyphs">PROVINCES</text>
  <line x1="778.7" y1="427" x2="778.7" y2="787" stroke="#dadada" stroke-width="1.3"/>
<rect x="779.5" y="438.1" width="203.0" height="13.4" fill="#06a7ee"/>
<text x="768.5" y="448.8" font-size="11.8" fill="#858585" text-anchor="end" textLength="55.7" lengthAdjust="spacingAndGlyphs">Nangarhar</text>
<text x="972.5" y="449.0" font-size="11.5" fill="#222" text-anchor="end">116,834</text>
<rect x="779.5" y="474.2" width="178.1" height="13.4" fill="#06a7ee"/>
<text x="768.5" y="484.9" font-size="11.8" fill="#858585" text-anchor="end" textLength="25.5" lengthAdjust="spacingAndGlyphs">Hirat</text>
<text x="947.6" y="485.1" font-size="11.5" fill="#222" text-anchor="end">102,522</text>
<rect x="779.5" y="510.3" width="159.5" height="13.4" fill="#06a7ee"/>
<text x="768.5" y="521.0" font-size="11.8" fill="#858585" text-anchor="end" textLength="37.2" lengthAdjust="spacingAndGlyphs">Nimroz</text>
<text x="929.0" y="521.2" font-size="11.5" fill="#222" text-anchor="end">91,821</text>
<rect x="779.5" y="546.4" width="56.0" height="13.4" fill="#06a7ee"/>
<text x="768.5" y="557.1" font-size="11.8" fill="#858585" text-anchor="end" textLength="43.75" lengthAdjust="spacingAndGlyphs">Baghlan</text>
<text x="838.5" y="557.3" font-size="11.5" fill="#333">32,207</text>
<rect x="779.5" y="582.5" width="45.4" height="13.4" fill="#06a7ee"/>
<text x="768.5" y="593.2" font-size="11.8" fill="#858585" text-anchor="end" textLength="52.1" lengthAdjust="spacingAndGlyphs">Kandahar</text>
<text x="827.9" y="593.4" font-size="11.5" fill="#333">26,121</text>
<rect x="779.5" y="618.6" width="37.5" height="13.4" fill="#06a7ee"/>
<text x="768.5" y="629.3" font-size="11.8" fill="#858585" text-anchor="end" textLength="29.7" lengthAdjust="spacingAndGlyphs">Kabul</text>
<text x="820.0" y="629.5" font-size="11.5" fill="#333">21,601</text>
<rect x="779.5" y="654.7" width="25.7" height="13.4" fill="#06a7ee"/>
<text x="768.5" y="665.4" font-size="11.8" fill="#858585" text-anchor="end" textLength="42.4" lengthAdjust="spacingAndGlyphs">Badghis</text>
<text x="808.2" y="665.6" font-size="11.5" fill="#333">14,786</text>
<rect x="779.5" y="690.8" width="21.8" height="13.4" fill="#06a7ee"/>
<text x="768.5" y="701.5" font-size="11.8" fill="#858585" text-anchor="end" textLength="38.5" lengthAdjust="spacingAndGlyphs">Kunduz</text>
<text x="804.3" y="701.7" font-size="11.5" fill="#333">12,572</text>
<rect x="779.5" y="726.9" width="17.6" height="13.4" fill="#06a7ee"/>
<text x="768.5" y="737.6" font-size="11.8" fill="#858585" text-anchor="end" textLength="50.2" lengthAdjust="spacingAndGlyphs">Laghman</text>
<text x="800.1" y="737.8" font-size="11.5" fill="#333">10,114</text>
<rect x="779.5" y="763.0" width="17.2" height="13.4" fill="#06a7ee"/>
<text x="768.5" y="773.7" font-size="11.8" fill="#858585" text-anchor="end" textLength="43.75" lengthAdjust="spacingAndGlyphs">Hilmand</text>
<text x="799.7" y="773.9" font-size="11.5" fill="#333">9,918</text>
</g>

<!-- ===== LEGEND ===== -->
<g id="legend">
  <text x="542.5" y="626.2" font-size="13" font-weight="bold" fill="#888" textLength="100.4" lengthAdjust="spacingAndGlyphs">REACHED PER</text>
  <text x="542.5" y="641.5" font-size="13" font-weight="bold" fill="#888" textLength="63" lengthAdjust="spacingAndGlyphs">DISTRICT</text>
  <g fill="#00a6ef" fill-opacity="0.9" stroke="#1b3142" stroke-width="1.3">
    <circle cx="553.2" cy="665.1" r="4.2"/>
    <circle cx="553.2" cy="688.8" r="6.2"/>
    <circle cx="553.2" cy="712" r="8.4"/>
    <circle cx="553.2" cy="737.3" r="10.8"/>
    <circle cx="553.2" cy="766.9" r="12.9"/>
  </g>
  <g fill="none" stroke="#bfe9fb" stroke-width="0.7" stroke-dasharray="1.6 1.6" stroke-opacity="0.8">
    <circle cx="553.2" cy="712" r="6.8"/>
    <circle cx="553.2" cy="737.3" r="9.2"/>
    <circle cx="553.2" cy="766.9" r="11.3"/>
  </g>
  <g font-size="11.5" fill="#333">
    <text x="578" y="669.2">1 - 1,000</text>
    <text x="578" y="692.9">1,000 - 2,500</text>
    <text x="578" y="716.1">2,500 - 5,000</text>
    <text x="578" y="741.4">5,000 - 10,000</text>
    <text x="578" y="771">&gt; 10,000</text>
  </g>
</g>

<text x="62.5" y="845" font-size="13.3" font-weight="bold" fill="#8a8a8a" textLength="126" lengthAdjust="spacingAndGlyphs">AGE AND GENDER</text>
<text x="63" y="887.5" font-size="12" fill="#606060">63% of</text>
<text x="63" y="902" font-size="12" fill="#606060">beneficiaries are</text>
<text x="63" y="916.3" font-size="12" fill="#606060">women and girls,</text>
<text x="63" y="931" font-size="12" fill="#606060">56% are children</text>
<rect x="222" y="873.2" width="62.0" height="14.9" fill="#12a9e8"/>
<rect x="227.5" y="871.4" width="57.5" height="18.5" fill="#12a9e8"/>
<text x="258.2" y="884.6" font-size="11.5" fill="#fff" text-anchor="middle">195,286</text>
<text x="211" y="884.6" font-size="12" fill="#808080" text-anchor="end" textLength="22.3" lengthAdjust="spacingAndGlyphs">Girls</text>
<rect x="222" y="911.1" width="55.0" height="14.9" fill="#12a9e8"/>
<rect x="227.5" y="909.3" width="50.1" height="18.5" fill="#12a9e8"/>
<text x="254.6" y="922.5" font-size="11.5" fill="#fff" text-anchor="middle">73,094</text>
<text x="211" y="922.5" font-size="12" fill="#808080" text-anchor="end" textLength="26.2" lengthAdjust="spacingAndGlyphs">Boys</text>
<rect x="222" y="948.8" width="62.0" height="14.9" fill="#12a9e8"/>
<rect x="227.5" y="947.0" width="57.0" height="18.5" fill="#12a9e8"/>
<text x="258.0" y="960.2" font-size="11.5" fill="#fff" text-anchor="middle">103,719</text>
<text x="211" y="960.2" font-size="12" fill="#808080" text-anchor="end" textLength="41.1" lengthAdjust="spacingAndGlyphs">Women</text>
<rect x="222" y="987.1" width="55.0" height="14.9" fill="#12a9e8"/>
<rect x="227.5" y="985.3" width="50.0" height="18.5" fill="#12a9e8"/>
<text x="254.5" y="998.5" font-size="11.5" fill="#fff" text-anchor="middle">97,234</text>
<text x="211" y="998.5" font-size="12" fill="#808080" text-anchor="end" textLength="23.9" lengthAdjust="spacingAndGlyphs">Men</text>
<rect x="222" y="1025.4" width="2.0" height="14.9" fill="#12a9e8"/>
<rect x="227.5" y="1023.6" width="43.8" height="18.5" fill="#12a9e8"/>
<text x="251.4" y="1036.8" font-size="11.5" fill="#fff" text-anchor="middle">5,920</text>
<text x="211" y="1036.8" font-size="12" fill="#808080" text-anchor="end" textLength="64" lengthAdjust="spacingAndGlyphs">Women 60+</text>
<rect x="222" y="1063.7" width="2.0" height="14.9" fill="#12a9e8"/>
<rect x="227.5" y="1061.9" width="43.8" height="18.5" fill="#12a9e8"/>
<text x="251.4" y="1075.2" font-size="11.5" fill="#fff" text-anchor="middle">7,187</text>
<text x="211" y="1075.2" font-size="12" fill="#808080" text-anchor="end" textLength="44.5" lengthAdjust="spacingAndGlyphs">Men 60+</text>
<text x="394.5" y="845" font-size="13.3" font-weight="bold" fill="#8a8a8a" textLength="153" lengthAdjust="spacingAndGlyphs">POPULATION GROUPS</text>
<rect x="547.5" y="876.0" width="85.4" height="15.2" fill="#12a9e8"/>
<rect x="552.4" y="874.2" width="57.3" height="18.8" fill="#12a9e8"/>
<text x="583.0" y="887.6" font-size="11.5" fill="#fff" text-anchor="middle">217,390</text>
<text x="475.5" y="881.1" font-size="12" fill="#808080" text-anchor="middle" textLength="122" lengthAdjust="spacingAndGlyphs">Vulnerable people with</text>
<text x="475.5" y="894.1" font-size="12" fill="#808080" text-anchor="middle" textLength="105" lengthAdjust="spacingAndGlyphs">humanitarian needs</text>
<rect x="547.5" y="913.6" width="63.5" height="15.2" fill="#12a9e8"/>
<rect x="552.4" y="911.8" width="58.6" height="18.8" fill="#12a9e8"/>
<text x="583.7" y="925.2" font-size="11.5" fill="#fff" text-anchor="middle">160,608</text>
<text x="536.5" y="925.2" font-size="12" fill="#808080" text-anchor="end" textLength="135.5" lengthAdjust="spacingAndGlyphs">Undocumented returnees</text>
<rect x="547.5" y="951.6" width="62.7" height="15.2" fill="#12a9e8"/>
<rect x="552.4" y="949.8" width="57.8" height="18.8" fill="#12a9e8"/>
<text x="583.3" y="963.2" font-size="11.5" fill="#fff" text-anchor="middle">100,388</text>
<text x="536.5" y="963.2" font-size="12" fill="#808080" text-anchor="end" textLength="102.5" lengthAdjust="spacingAndGlyphs">Internally displaced</text>
<rect x="547.5" y="988.8" width="2.0" height="15.2" fill="#12a9e8"/>
<rect x="552.4" y="987.0" width="44.6" height="18.8" fill="#12a9e8"/>
<text x="576.7" y="1000.4" font-size="11.5" fill="#fff" text-anchor="middle">2,739</text>
<text x="467" y="993.9" font-size="12" fill="#808080" text-anchor="middle" textLength="139.2" lengthAdjust="spacingAndGlyphs">Non-displaced affected by</text>
<text x="467" y="1006.9" font-size="12" fill="#808080" text-anchor="middle" textLength="30.5" lengthAdjust="spacingAndGlyphs">shock</text>
<rect x="547.5" y="1026.6" width="2.0" height="15.2" fill="#12a9e8"/>
<rect x="552.4" y="1024.8" width="34.1" height="18.8" fill="#12a9e8"/>
<text x="571.5" y="1038.2" font-size="11.5" fill="#fff" text-anchor="middle">884</text>
<text x="536.5" y="1038.2" font-size="12" fill="#808080" text-anchor="end" textLength="98.9" lengthAdjust="spacingAndGlyphs">Refugee returnees</text>
<rect x="547.5" y="1064.4" width="1.5" height="15.2" fill="#12a9e8"/>
<rect x="552.4" y="1062.6" width="34.1" height="18.8" fill="#12a9e8"/>
<text x="571.5" y="1076.0" font-size="11.5" fill="#fff" text-anchor="middle">431</text>
<text x="536.5" y="1076.0" font-size="12" fill="#808080" text-anchor="end" textLength="51.3" lengthAdjust="spacingAndGlyphs">Refugees</text>
<text x="721" y="845" font-size="13.3" font-weight="bold" fill="#8a8a8a" textLength="65.6" lengthAdjust="spacingAndGlyphs">SECTORS</text>
<rect x="847.6" y="880.0" width="63.4" height="15.4" fill="#2e3192"/>
<rect x="852.7" y="878.2" width="58.3" height="19.0" fill="#2e3192"/>
<text x="883.9" y="891.7" font-size="11.5" fill="#fff" text-anchor="middle">133,899</text>
<text x="837.4" y="891.7" font-size="12" fill="#808080" text-anchor="end" textLength="100.3" lengthAdjust="spacingAndGlyphs">General Protection</text>
<rect x="847.6" y="924.5" width="56.4" height="15.4" fill="#7b77a8"/>
<rect x="852.7" y="922.7" width="51.3" height="19.0" fill="#7b77a8"/>
<text x="880.4" y="936.2" font-size="11.5" fill="#fff" text-anchor="middle">54,165</text>
<text x="837.4" y="936.2" font-size="12" fill="#808080" text-anchor="end" textLength="85.6" lengthAdjust="spacingAndGlyphs">Child Protection</text>
<rect x="847.6" y="966.4" width="56.4" height="15.4" fill="#c800c8"/>
<rect x="852.7" y="964.6" width="51.3" height="19.0" fill="#c800c8"/>
<text x="880.4" y="978.1" font-size="11.5" fill="#fff" text-anchor="middle">41,934</text>
<text x="837.4" y="978.1" font-size="12" fill="#808080" text-anchor="end" textLength="126.2" lengthAdjust="spacingAndGlyphs">Gender-Based Violence</text>
<rect x="847.6" y="1010.3" width="77.4" height="15.4" fill="#e3262b"/>
<rect x="852.7" y="1008.5" width="58.3" height="19.0" fill="#e3262b"/>
<text x="883.9" y="1022.0" font-size="11.5" fill="#fff" text-anchor="middle">257,084</text>
<text x="837.4" y="1022.0" font-size="12" fill="#808080" text-anchor="end" textLength="62.7" lengthAdjust="spacingAndGlyphs">Mine Action</text>
<rect x="847.6" y="1053.5" width="56.4" height="15.4" fill="#f15a24"/>
<rect x="852.7" y="1051.7" width="51.3" height="19.0" fill="#f15a24"/>
<text x="880.4" y="1065.2" font-size="11.5" fill="#fff" text-anchor="middle">29,094</text>
<text x="837.4" y="1065.2" font-size="12" fill="#808080" text-anchor="end" textLength="147.3" lengthAdjust="spacingAndGlyphs">Housing, Land and Property</text>
<line x1="46.5" y1="1115.3" x2="970" y2="1115.3" stroke="#c4c4c4" stroke-width="1.3" stroke-dasharray="4 2"/>
<line x1="570" y1="1134" x2="570" y2="1383" stroke="#c4c4c4" stroke-width="1.3" stroke-dasharray="4 2"/>
<line x1="46.5" y1="1327.8" x2="261.5" y2="1327.8" stroke="#c4c4c4" stroke-width="1.2" stroke-dasharray="4 2"/>
<text x="63" y="1155.9" font-size="18.5" font-weight="bold" fill="#29abe2" textLength="209.6" lengthAdjust="spacingAndGlyphs">REPORTING PARTNERS</text>
<text x="60.4" y="1199.6" font-size="14.8" fill="#858585" textLength="441.5" lengthAdjust="spacingAndGlyphs">AABRAR, AADA, AAH, APA, ARAA, ATC, AWRC, CAID, CARE,</text>
<text x="60.4" y="1217.4" font-size="14.8" fill="#858585" textLength="404.5" lengthAdjust="spacingAndGlyphs">CAWC, CARITAS-G, Cordaid, CRDSA, DAFA, DDG, DRC,</text>
<text x="60.4" y="1235.2" font-size="14.8" fill="#858585" textLength="422" lengthAdjust="spacingAndGlyphs">ECW, HALO, HI, HNTPO, HRDA, HRRAC, IMC, INTERSOS,</text>
<text x="60.4" y="1253.0" font-size="14.8" fill="#858585" textLength="437.8" lengthAdjust="spacingAndGlyphs">IOM, IRC, MCPA, OHW, NRC, OXFAM, RAADA, TDH, UNFPA,</text>
<text x="60.4" y="1270.8" font-size="14.8" fill="#858585" textLength="445" lengthAdjust="spacingAndGlyphs">UNHCR, UNICEF, UNMAS, WADA, WASSA, WAW, WC-C, WC-</text>
<text x="60.4" y="1288.6" font-size="14.8" fill="#858585" textLength="116" lengthAdjust="spacingAndGlyphs">UK, WSTA, ZOA</text>
<text x="49.6" y="1354" font-size="10.5" fill="#8a8a8a" textLength="193" lengthAdjust="spacingAndGlyphs">Protection IMU <tspan fill="#3fb0e3">afgkaimu@unhcr.org</tspan></text>
<ellipse cx="60" cy="1377.4" rx="10.2" ry="9.4" fill="#1ba1e2"/>
<ellipse cx="82.9" cy="1377.4" rx="10.2" ry="9.4" fill="#e3121b"/>
<ellipse cx="105.6" cy="1377.4" rx="10.2" ry="9.4" fill="#f9a825"/>
<ellipse cx="127.9" cy="1377.4" rx="10.2" ry="9.4" fill="#1a9c3e"/>
<text x="152.5" y="1382.5" font-size="12.8" fill="#6a6a6a" textLength="82" lengthAdjust="spacingAndGlyphs">17 June 2020</text>
<text x="675.5" y="1156" font-size="18" font-weight="bold" fill="#29abe2" textLength="81.3" lengthAdjust="spacingAndGlyphs">FUNDING</text>
<text x="677.6" y="1184.7" font-size="13" fill="#8a8a8a" textLength="159" lengthAdjust="spacingAndGlyphs">Requirement: <tspan fill="#555">USD 59.9 M</tspan></text>
<path d="M771 1283 L771.00 1201.00 A82 82 0 1 0 837.34 1234.80 Z" fill="#d9d9d9"/>
<path d="M772.5 1281.5 L772.50 1199.50 A82 82 0 0 1 838.84 1233.30 Z" fill="#0faaea" stroke="#fff" stroke-width="2.5" stroke-linejoin="miter"/>
<text x="818.4" y="1206.3" font-size="13.3" fill="#444">Received</text>
<text x="786" y="1231.7" font-size="12" fill="#2c5a80">15%</text>
<text x="726.3" y="1310.9" font-size="13" fill="#555">85%</text>
<text x="727.6" y="1329" font-size="13" fill="#555">Gap</text>

</svg>
</body></html>
